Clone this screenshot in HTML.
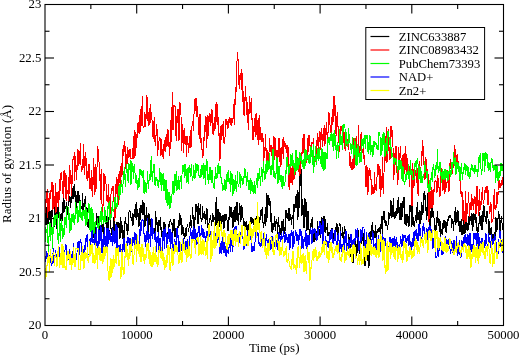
<!DOCTYPE html>
<html><head><meta charset="utf-8"><title>Radius of gyration</title>
<style>
html,body{margin:0;padding:0;background:#fff;}
body{width:519px;height:355px;overflow:hidden;}
svg{display:block;}
svg text{font-family:"Liberation Serif","Times New Roman",serif;font-size:12.8px;fill:#000;}
</style></head><body>
<svg width="519" height="355" viewBox="0 0 519 355">
<rect width="519" height="355" fill="#fff"/>
<g id="curves">
<polyline fill="none" stroke="#000000" stroke-width="1" shape-rendering="crispEdges" stroke-linejoin="round" points="45.0,225.0 45.2,219.8 45.5,217.0 45.8,210.6 46.0,221.9 46.2,207.6 46.5,224.3 46.8,217.4 47.0,221.5 47.2,219.5 47.5,231.9 47.8,211.3 48.0,211.9 48.2,211.6 48.5,223.8 48.8,213.3 49.0,213.9 49.2,208.4 49.5,212.3 49.8,219.2 50.0,209.6 50.2,222.0 50.5,228.0 50.8,228.5 51.0,232.0 51.2,221.2 51.5,218.8 51.8,210.5 52.0,210.5 52.2,217.0 52.5,211.2 52.8,209.7 53.0,206.4 53.2,202.9 53.5,202.0 53.8,206.7 54.0,200.8 54.2,207.7 54.5,223.5 54.8,226.4 55.0,220.8 55.2,211.5 55.5,206.6 55.8,222.4 56.0,219.8 56.2,212.7 56.5,214.4 56.8,228.4 57.0,224.7 57.2,225.1 57.5,222.9 57.8,216.6 58.0,206.8 58.2,206.2 58.5,206.7 58.8,212.6 59.0,218.0 59.2,222.1 59.5,220.1 59.8,222.8 60.0,213.4 60.2,220.7 60.5,220.4 60.8,214.7 61.0,216.1 61.2,213.3 61.5,219.1 61.8,222.0 62.0,221.7 62.2,215.7 62.5,204.1 62.8,202.4 63.0,205.3 63.2,211.5 63.5,212.0 63.8,198.1 64.0,199.4 64.2,206.9 64.5,208.2 64.8,212.0 65.0,208.6 65.2,206.4 65.5,207.1 65.8,208.7 66.0,208.4 66.2,207.7 66.5,202.4 66.8,205.1 67.0,205.2 67.2,211.1 67.5,214.9 67.8,211.9 68.0,206.2 68.2,200.8 68.5,203.5 68.8,203.1 69.0,200.2 69.2,200.5 69.5,196.6 69.8,201.9 70.0,198.3 70.2,206.1 70.5,206.1 70.8,207.1 71.0,197.5 71.2,198.8 71.5,202.9 71.8,195.5 72.0,194.6 72.2,195.8 72.5,188.2 72.8,193.1 73.0,199.2 73.2,193.2 73.5,196.2 73.8,188.6 74.0,186.0 74.2,184.8 74.5,193.7 74.8,196.4 75.0,195.6 75.2,191.4 75.5,200.1 75.8,206.7 76.0,194.9 76.2,202.5 76.5,207.6 76.8,207.3 77.0,197.4 77.2,202.5 77.5,200.1 77.8,196.3 78.0,190.6 78.2,196.7 78.5,202.1 78.8,198.0 79.0,201.7 79.2,195.0 79.5,201.5 79.8,201.7 80.0,200.6 80.2,200.4 80.5,205.7 80.8,208.5 81.0,209.2 81.2,207.6 81.5,206.3 81.8,208.5 82.0,207.9 82.2,210.0 82.5,206.1 82.8,193.0 83.0,202.0 83.2,214.3 83.5,213.3 83.8,209.8 84.0,207.4 84.2,206.0 84.5,205.9 84.8,200.0 85.0,199.4 85.2,196.9 85.5,202.1 85.8,202.8 86.0,208.0 86.2,207.8 86.5,214.8 86.8,215.1 87.0,223.2 87.2,211.1 87.5,208.1 87.8,216.1 88.0,226.9 88.2,225.3 88.5,222.8 88.8,219.5 89.0,228.4 89.2,223.3 89.5,227.0 89.8,222.5 90.0,212.8 90.2,217.9 90.5,222.7 90.8,231.5 91.0,227.2 91.2,220.9 91.5,225.3 91.8,226.0 92.0,226.8 92.2,224.9 92.5,232.3 92.8,231.7 93.0,236.6 93.2,236.8 93.5,237.0 93.8,224.3 94.0,228.5 94.2,230.1 94.5,233.7 94.8,237.6 95.0,230.9 95.2,234.4 95.5,227.8 95.8,238.2 96.0,226.3 96.2,215.0 96.5,213.5 96.8,213.6 97.0,213.7 97.2,226.8 97.5,224.6 97.8,216.8 98.0,227.2 98.2,223.3 98.5,216.8 98.8,225.8 99.0,230.0 99.2,226.2 99.5,235.2 99.8,233.1 100.0,239.0 100.2,239.0 100.5,239.1 100.8,239.1 101.0,227.5 101.2,239.2 101.5,233.8 101.8,230.3 102.0,225.0 102.2,224.6 102.5,227.1 102.8,228.4 103.0,232.1 103.2,239.5 103.5,235.9 103.8,225.4 104.0,219.0 104.2,217.9 104.5,215.6 104.8,222.0 105.0,221.0 105.2,221.5 105.5,223.7 105.8,216.6 106.0,215.9 106.2,223.9 106.5,229.1 106.8,226.0 107.0,237.8 107.2,226.4 107.5,224.8 107.8,224.5 108.0,216.0 108.2,227.3 108.5,229.8 108.8,222.8 109.0,237.1 109.2,237.5 109.5,236.8 109.8,230.0 110.0,230.0 110.2,219.9 110.5,227.6 110.8,225.5 111.0,227.2 111.2,234.8 111.5,234.2 111.8,233.6 112.0,233.3 112.2,227.0 112.5,232.5 112.8,240.0 113.0,240.0 113.2,240.0 113.5,231.5 113.8,225.0 114.0,217.2 114.2,228.5 114.5,226.8 114.8,235.8 115.0,228.3 115.2,225.4 115.5,226.7 115.8,232.7 116.0,231.3 116.2,231.2 116.5,229.9 116.8,230.1 117.0,221.9 117.2,224.2 117.5,223.9 117.8,224.5 118.0,228.4 118.2,223.3 118.5,223.8 118.8,222.7 119.0,226.7 119.2,231.7 119.5,223.4 119.8,228.2 120.0,239.2 120.2,226.2 120.5,220.8 120.8,217.0 121.0,218.7 121.2,232.3 121.5,230.6 121.8,224.9 122.0,229.8 122.2,225.2 122.5,233.3 122.8,233.0 123.0,239.5 123.2,230.8 123.5,239.0 123.8,238.7 124.0,238.4 124.2,236.3 124.5,228.0 124.8,221.6 125.0,222.0 125.2,218.1 125.5,222.1 125.8,217.9 126.0,223.8 126.2,229.5 126.5,223.2 126.8,230.4 127.0,226.4 127.2,232.0 127.5,231.3 127.8,234.3 128.0,224.6 128.2,223.1 128.5,230.9 128.8,224.2 129.0,211.7 129.2,210.7 129.5,210.5 129.8,210.4 130.0,210.2 130.2,214.5 130.5,214.0 130.8,217.9 131.0,217.9 131.2,218.5 131.5,217.8 131.8,217.3 132.0,220.5 132.2,213.0 132.5,220.8 132.8,225.3 133.0,221.6 133.2,225.0 133.5,218.3 133.8,214.7 134.0,216.5 134.2,215.5 134.5,213.2 134.8,210.2 135.0,208.9 135.2,217.2 135.5,204.7 135.8,210.7 136.0,210.8 136.2,216.9 136.5,219.5 136.8,202.7 137.0,208.9 137.2,212.8 137.5,213.4 137.8,210.7 138.0,217.4 138.2,213.6 138.5,225.5 138.8,225.1 139.0,226.6 139.2,222.5 139.5,208.1 139.8,214.7 140.0,219.7 140.2,217.8 140.5,206.4 140.8,205.9 141.0,212.5 141.2,211.5 141.5,211.3 141.8,210.8 142.0,205.5 142.2,204.7 142.5,200.3 142.8,214.7 143.0,210.9 143.2,214.6 143.5,207.3 143.8,214.1 144.0,202.0 144.2,212.2 144.5,213.0 144.8,226.5 145.0,215.0 145.2,216.0 145.5,218.5 145.8,225.4 146.0,220.3 146.2,220.2 146.5,207.7 146.8,207.8 147.0,214.4 147.2,222.6 147.5,220.6 147.8,231.1 148.0,231.5 148.2,231.8 148.5,216.7 148.8,213.2 149.0,213.8 149.2,221.8 149.5,224.5 149.8,215.8 150.0,218.2 150.2,227.9 150.5,224.9 150.8,220.9 151.0,232.1 151.2,229.4 151.5,224.7 151.8,225.9 152.0,224.7 152.2,221.4 152.5,228.3 152.8,232.4 153.0,233.1 153.2,228.5 153.5,232.7 153.8,228.1 154.0,228.2 154.2,231.8 154.5,232.4 154.8,232.3 155.0,232.2 155.2,218.8 155.5,211.7 155.8,223.6 156.0,220.5 156.2,223.2 156.5,217.3 156.8,225.1 157.0,221.7 157.2,230.8 157.5,224.8 157.8,230.8 158.0,232.1 158.2,225.0 158.5,230.9 158.8,223.6 159.0,219.6 159.2,225.5 159.5,222.2 159.8,220.4 160.0,220.7 160.2,217.8 160.5,226.2 160.8,229.5 161.0,228.4 161.2,227.7 161.5,229.9 161.8,236.8 162.0,237.0 162.2,232.7 162.5,234.9 162.8,232.4 163.0,230.6 163.2,237.6 163.5,233.4 163.8,230.2 164.0,222.1 164.2,222.0 164.5,225.1 164.8,224.2 165.0,228.6 165.2,225.0 165.5,224.1 165.8,229.2 166.0,235.6 166.2,236.4 166.5,238.8 166.8,238.9 167.0,239.0 167.2,235.7 167.5,234.1 167.8,235.6 168.0,232.5 168.2,233.7 168.5,226.4 168.8,224.3 169.0,228.4 169.2,222.0 169.5,221.6 169.8,221.8 170.0,220.7 170.2,220.9 170.5,219.9 170.8,221.2 171.0,222.3 171.2,225.0 171.5,223.1 171.8,224.9 172.0,222.5 172.2,226.8 172.5,235.8 172.8,233.6 173.0,231.9 173.2,223.3 173.5,227.9 173.8,222.6 174.0,218.7 174.2,224.2 174.5,225.5 174.8,231.8 175.0,236.5 175.2,230.0 175.5,228.8 175.8,236.2 176.0,236.1 176.2,236.1 176.5,236.0 176.8,231.2 177.0,232.4 177.2,235.7 177.5,235.6 177.8,230.9 178.0,226.5 178.2,227.6 178.5,224.0 178.8,220.9 179.0,226.0 179.2,223.2 179.5,213.1 179.8,219.9 180.0,219.8 180.2,218.4 180.5,216.0 180.8,224.2 181.0,217.9 181.2,218.9 181.5,219.8 181.8,227.9 182.0,234.9 182.2,228.9 182.5,229.6 182.8,225.1 183.0,232.1 183.2,227.8 183.5,230.1 183.8,235.5 184.0,234.6 184.2,238.6 184.5,233.7 184.8,234.2 185.0,236.0 185.2,233.6 185.5,237.0 185.8,236.3 186.0,228.0 186.2,236.1 186.5,235.6 186.8,235.1 187.0,227.1 187.2,226.9 187.5,224.5 187.8,226.9 188.0,227.3 188.2,232.0 188.5,230.1 188.8,229.3 189.0,228.1 189.2,224.9 189.5,222.5 189.8,226.1 190.0,227.0 190.2,221.6 190.5,215.9 190.8,216.6 191.0,222.6 191.2,221.1 191.5,228.0 191.8,221.2 192.0,220.7 192.2,208.4 192.5,208.0 192.8,209.4 193.0,214.6 193.2,224.3 193.5,221.8 193.8,227.3 194.0,227.2 194.2,227.2 194.5,221.8 194.8,227.0 195.0,217.2 195.2,219.3 195.5,212.4 195.8,210.4 196.0,204.0 196.2,204.7 196.5,210.3 196.8,211.5 197.0,205.0 197.2,216.8 197.5,218.0 197.8,222.5 198.0,224.1 198.2,217.0 198.5,205.1 198.8,203.5 199.0,213.9 199.2,208.1 199.5,214.8 199.8,211.1 200.0,214.3 200.2,204.1 200.5,214.2 200.8,214.1 201.0,219.1 201.2,218.7 201.5,221.7 201.8,218.9 202.0,221.6 202.2,211.3 202.5,207.0 202.8,213.9 203.0,214.4 203.2,213.7 203.5,213.6 203.8,217.2 204.0,213.8 204.2,217.5 204.5,212.3 204.8,211.8 205.0,218.8 205.2,223.8 205.5,215.8 205.8,220.7 206.0,214.2 206.2,219.2 206.5,209.0 206.8,208.0 207.0,208.7 207.2,211.7 207.5,221.3 207.8,224.9 208.0,228.4 208.2,228.6 208.5,226.7 208.8,223.5 209.0,227.1 209.2,225.3 209.5,223.5 209.8,218.1 210.0,219.4 210.2,215.5 210.5,216.1 210.8,216.6 211.0,220.1 211.2,220.2 211.5,220.3 211.8,225.2 212.0,220.1 212.2,221.4 212.5,213.1 212.8,215.3 213.0,218.1 213.2,222.0 213.5,215.9 213.8,217.7 214.0,218.7 214.2,217.4 214.5,217.2 214.8,218.9 215.0,219.5 215.2,210.5 215.5,202.7 215.8,223.1 216.0,225.9 216.2,214.7 216.5,198.0 216.8,219.7 217.0,222.7 217.2,220.3 217.5,211.4 217.8,211.2 218.0,209.2 218.2,212.3 218.5,211.9 218.8,212.7 219.0,220.7 219.2,227.1 219.5,216.7 219.8,214.7 220.0,211.8 220.2,221.5 220.5,220.7 220.8,228.4 221.0,223.3 221.2,222.9 221.5,216.1 221.8,224.8 222.0,222.6 222.2,216.4 222.5,216.8 222.8,215.5 223.0,215.2 223.2,217.8 223.5,220.8 223.8,228.3 224.0,225.0 224.2,227.8 224.5,227.4 224.8,224.6 225.0,213.6 225.2,221.0 225.5,218.6 225.8,219.6 226.0,213.6 226.2,217.5 226.5,219.1 226.8,219.7 227.0,219.1 227.2,225.1 227.5,228.5 227.8,229.5 228.0,230.7 228.2,230.6 228.5,225.7 228.8,217.5 229.0,220.4 229.2,215.6 229.5,206.9 229.8,206.6 230.0,206.3 230.2,216.2 230.5,207.1 230.8,207.0 231.0,209.7 231.2,207.8 231.5,214.3 231.8,215.2 232.0,217.7 232.2,212.8 232.5,223.7 232.8,221.1 233.0,227.5 233.2,220.7 233.5,222.8 233.8,216.0 234.0,209.9 234.2,207.4 234.5,209.9 234.8,210.4 235.0,221.8 235.2,212.1 235.5,206.1 235.8,219.9 236.0,221.9 236.2,207.2 236.5,212.9 236.8,215.0 237.0,202.1 237.2,203.7 237.5,207.5 237.8,214.8 238.0,220.9 238.2,219.5 238.5,224.5 238.8,220.4 239.0,213.2 239.2,208.2 239.5,214.2 239.8,203.3 240.0,211.3 240.2,206.0 240.5,207.3 240.8,213.4 241.0,221.8 241.2,207.9 241.5,205.9 241.8,210.5 242.0,209.8 242.2,217.9 242.5,207.7 242.8,213.7 243.0,218.4 243.2,219.6 243.5,225.5 243.8,218.6 244.0,225.0 244.2,221.4 244.5,225.2 244.8,223.6 245.0,227.1 245.2,229.2 245.5,222.5 245.8,223.0 246.0,223.7 246.2,223.7 246.5,222.0 246.8,230.1 247.0,229.8 247.2,233.5 247.5,230.0 247.8,225.7 248.0,226.5 248.2,224.3 248.5,233.4 248.8,231.5 249.0,233.0 249.2,229.6 249.5,226.5 249.8,225.4 250.0,226.1 250.2,228.5 250.5,225.9 250.8,221.7 251.0,216.9 251.2,218.0 251.5,221.6 251.8,223.3 252.0,222.1 252.2,218.4 252.5,219.4 252.8,222.3 253.0,221.2 253.2,221.2 253.5,219.9 253.8,224.3 254.0,220.5 254.2,221.0 254.5,222.3 254.8,224.8 255.0,228.9 255.2,228.9 255.5,228.8 255.8,218.2 256.0,221.4 256.2,228.6 256.5,223.2 256.8,216.6 257.0,216.3 257.2,222.1 257.5,223.4 257.8,219.4 258.0,218.9 258.2,223.8 258.5,225.1 258.8,227.9 259.0,227.9 259.2,227.8 259.5,227.7 259.8,223.3 260.0,216.6 260.2,217.6 260.5,219.8 260.8,211.0 261.0,209.6 261.2,209.4 261.5,212.9 261.8,211.9 262.0,215.6 262.2,215.7 262.5,222.3 262.8,207.3 263.0,221.2 263.2,227.9 263.5,223.7 263.8,224.9 264.0,225.3 264.2,214.5 264.5,214.7 264.8,220.0 265.0,219.4 265.2,225.6 265.5,221.0 265.8,217.8 266.0,207.4 266.2,193.0 266.5,201.7 266.8,221.2 267.0,219.8 267.2,207.5 267.5,212.7 267.8,210.9 268.0,194.7 268.2,199.1 268.5,196.2 268.8,204.2 269.0,200.0 269.2,198.3 269.5,205.4 269.8,199.8 270.0,200.9 270.2,208.1 270.5,215.9 270.8,221.8 271.0,220.2 271.2,213.8 271.5,228.6 271.8,221.2 272.0,231.6 272.2,225.0 272.5,230.6 272.8,232.1 273.0,222.8 273.2,224.3 273.5,227.7 273.8,229.6 274.0,225.8 274.2,226.3 274.5,222.9 274.8,216.7 275.0,224.3 275.2,221.2 275.5,229.2 275.8,230.4 276.0,224.0 276.2,223.5 276.5,222.8 276.8,219.8 277.0,224.2 277.2,222.8 277.5,231.2 277.8,233.1 278.0,226.7 278.2,226.2 278.5,224.9 278.8,217.8 279.0,224.6 279.2,229.3 279.5,232.2 279.8,227.5 280.0,231.8 280.2,228.3 280.5,231.7 280.8,234.7 281.0,234.4 281.2,223.3 281.5,221.8 281.8,226.0 282.0,232.0 282.2,222.7 282.5,221.9 282.8,223.7 283.0,226.1 283.2,230.5 283.5,222.2 283.8,219.9 284.0,227.0 284.2,228.0 284.5,228.9 284.8,233.8 285.0,230.5 285.2,231.0 285.5,225.9 285.8,215.9 286.0,209.8 286.2,214.5 286.5,215.8 286.8,213.7 287.0,218.4 287.2,213.9 287.5,217.2 287.8,218.5 288.0,214.2 288.2,208.9 288.5,217.9 288.8,220.9 289.0,208.7 289.2,208.6 289.5,214.4 289.8,215.1 290.0,220.6 290.2,214.5 290.5,217.5 290.8,218.1 291.0,217.6 291.2,217.1 291.5,219.1 291.8,224.7 292.0,219.0 292.2,215.9 292.5,217.3 292.8,216.3 293.0,218.7 293.2,222.5 293.5,228.7 293.8,223.1 294.0,204.3 294.2,207.0 294.5,211.6 294.8,210.7 295.0,210.1 295.2,198.4 295.5,203.0 295.8,203.3 296.0,196.5 296.2,195.9 296.5,195.0 296.8,201.7 297.0,207.7 297.2,219.2 297.5,219.4 297.8,202.5 298.0,190.2 298.2,203.8 298.5,216.4 298.8,208.4 299.0,210.0 299.2,191.1 299.5,178.1 299.8,176.1 300.0,174.1 300.2,172.5 300.5,175.4 300.8,173.9 301.0,185.9 301.2,205.1 301.5,170.0 301.8,216.0 302.0,207.4 302.2,199.3 302.5,204.6 302.8,200.7 303.0,214.7 303.2,205.6 303.5,220.2 303.8,218.8 304.0,228.3 304.2,225.8 304.5,219.0 304.8,218.1 305.0,198.0 305.2,209.2 305.5,215.4 305.8,216.6 306.0,205.4 306.2,202.8 306.5,210.6 306.8,221.6 307.0,231.0 307.2,222.0 307.5,216.2 307.8,216.9 308.0,210.8 308.2,211.2 308.5,219.2 308.8,229.7 309.0,229.3 309.2,234.4 309.5,234.7 309.8,232.4 310.0,229.1 310.2,229.0 310.5,226.7 310.8,225.9 311.0,222.7 311.2,225.8 311.5,226.6 311.8,219.1 312.0,221.1 312.2,219.2 312.5,218.0 312.8,220.6 313.0,232.6 313.2,240.8 313.5,241.2 313.8,237.9 314.0,241.7 314.2,241.6 314.5,228.5 314.8,233.8 315.0,236.0 315.2,234.8 315.5,234.6 315.8,233.3 316.0,240.4 316.2,234.7 316.5,231.8 316.8,231.0 317.0,231.8 317.2,221.8 317.5,231.5 317.8,231.8 318.0,233.6 318.2,232.9 318.5,230.4 318.8,228.0 319.0,228.6 319.2,229.2 319.5,234.6 319.8,234.0 320.0,231.2 320.2,237.6 320.5,229.1 320.8,221.9 321.0,225.4 321.2,224.8 321.5,217.3 321.8,218.6 322.0,217.8 322.2,226.2 322.5,223.0 322.8,229.0 323.0,230.0 323.2,227.3 323.5,226.6 323.8,228.0 324.0,215.8 324.2,221.1 324.5,221.2 324.8,231.6 325.0,226.9 325.2,232.3 325.5,219.6 325.8,226.2 326.0,228.3 326.2,227.5 326.5,227.7 326.8,227.3 327.0,230.0 327.2,229.6 327.5,223.2 327.8,225.4 328.0,235.8 328.2,234.6 328.5,234.7 328.8,232.4 329.0,233.2 329.2,233.8 329.5,232.9 329.8,236.0 330.0,232.5 330.2,232.8 330.5,234.7 330.8,233.5 331.0,229.6 331.2,232.7 331.5,229.7 331.8,229.4 332.0,227.9 332.2,229.3 332.5,229.1 332.8,228.7 333.0,232.4 333.2,238.7 333.5,235.3 333.8,236.2 334.0,233.5 334.2,233.4 334.5,237.1 334.8,235.5 335.0,231.2 335.2,228.6 335.5,227.3 335.8,228.7 336.0,233.0 336.2,227.1 336.5,224.4 336.8,223.7 337.0,223.7 337.2,228.8 337.5,229.7 337.8,238.2 338.0,230.1 338.2,236.1 338.5,231.7 338.8,230.1 339.0,226.6 339.2,224.4 339.5,223.6 339.8,226.0 340.0,223.6 340.2,224.8 340.5,227.3 340.8,232.0 341.0,232.5 341.2,233.9 341.5,235.7 341.8,234.5 342.0,235.4 342.2,230.0 342.5,227.3 342.8,237.9 343.0,236.4 343.2,232.2 343.5,239.7 343.8,237.2 344.0,233.3 344.2,226.7 344.5,233.9 344.8,229.0 345.0,228.8 345.2,235.1 345.5,236.9 345.8,236.7 346.0,236.0 346.2,243.4 346.5,249.5 346.8,246.2 347.0,247.4 347.2,251.1 347.5,251.6 347.8,247.6 348.0,242.9 348.2,239.1 348.5,234.9 348.8,234.1 349.0,239.2 349.2,237.6 349.5,245.5 349.8,246.3 350.0,244.0 350.2,250.3 350.5,251.2 350.8,251.7 351.0,256.8 351.2,257.5 351.5,254.2 351.8,258.3 352.0,257.5 352.2,261.9 352.5,262.5 352.8,262.8 353.0,262.6 353.2,262.3 353.5,262.0 353.8,261.2 354.0,251.8 354.2,247.1 354.5,250.7 354.8,239.7 355.0,243.6 355.2,239.9 355.5,246.8 355.8,241.6 356.0,255.3 356.2,256.9 356.5,244.1 356.8,256.1 357.0,250.4 357.2,242.9 357.5,235.8 357.8,242.2 358.0,252.6 358.2,244.8 358.5,236.9 358.8,230.9 359.0,244.1 359.2,253.4 359.5,246.3 359.8,247.1 360.0,244.2 360.2,241.8 360.5,246.2 360.8,245.7 361.0,244.5 361.2,240.2 361.5,243.3 361.8,239.2 362.0,238.2 362.2,240.2 362.5,234.1 362.8,235.4 363.0,236.6 363.2,240.2 363.5,235.7 363.8,233.4 364.0,248.7 364.2,257.2 364.5,261.7 364.8,264.8 365.0,266.4 365.2,264.2 365.5,264.2 365.8,246.2 366.0,240.0 366.2,249.9 366.5,250.7 366.8,241.0 367.0,249.5 367.2,257.6 367.5,260.3 367.8,256.4 368.0,247.2 368.2,248.7 368.5,252.1 368.8,247.8 369.0,268.0 369.2,252.4 369.5,251.7 369.8,232.5 370.0,243.5 370.2,254.5 370.5,245.5 370.8,231.9 371.0,237.3 371.2,232.9 371.5,226.6 371.8,235.6 372.0,225.1 372.2,230.3 372.5,222.1 372.8,232.4 373.0,233.9 373.2,230.7 373.5,230.7 373.8,233.0 374.0,235.7 374.2,237.4 374.5,237.0 374.8,231.4 375.0,233.6 375.2,225.1 375.5,231.1 375.8,234.3 376.0,237.5 376.2,232.0 376.5,231.4 376.8,234.1 377.0,233.3 377.2,229.2 377.5,230.0 377.8,229.3 378.0,233.1 378.2,228.0 378.5,229.1 378.8,229.6 379.0,232.1 379.2,229.6 379.5,229.0 379.8,227.5 380.0,227.0 380.2,226.4 380.5,224.3 380.8,235.4 381.0,229.8 381.2,221.8 381.5,218.5 381.8,216.7 382.0,219.3 382.2,228.7 382.5,234.8 382.8,233.1 383.0,215.6 383.2,220.1 383.5,213.4 383.8,213.5 384.0,210.9 384.2,216.1 384.5,214.0 384.8,220.8 385.0,223.4 385.2,220.7 385.5,220.8 385.8,225.7 386.0,221.1 386.2,225.7 386.5,223.0 386.8,222.8 387.0,225.9 387.2,230.0 387.5,229.5 387.8,225.4 388.0,226.8 388.2,213.0 388.5,224.4 388.8,212.5 389.0,219.2 389.2,213.8 389.5,217.3 389.8,215.3 390.0,216.6 390.2,210.1 390.5,200.4 390.8,205.1 391.0,203.7 391.2,202.5 391.5,201.1 391.8,217.5 392.0,211.6 392.2,213.4 392.5,205.2 392.8,216.5 393.0,210.8 393.2,198.4 393.5,216.4 393.8,207.3 394.0,215.7 394.2,217.6 394.5,218.2 394.8,213.3 395.0,212.5 395.2,217.8 395.5,212.4 395.8,211.9 396.0,215.3 396.2,212.6 396.5,208.3 396.8,216.0 397.0,214.8 397.2,211.4 397.5,205.3 397.8,200.0 398.0,207.6 398.2,213.0 398.5,197.8 398.8,197.1 399.0,206.4 399.2,219.0 399.5,219.1 399.8,219.2 400.0,219.3 400.2,218.2 400.5,219.3 400.8,206.8 401.0,203.0 401.2,206.4 401.5,219.9 401.8,220.0 402.0,218.0 402.2,212.9 402.5,201.4 402.8,207.7 403.0,205.3 403.2,208.1 403.5,202.2 403.8,205.5 404.0,196.6 404.2,204.7 404.5,215.6 404.8,220.0 405.0,223.5 405.2,223.9 405.5,224.2 405.8,223.7 406.0,214.3 406.2,225.2 406.5,225.5 406.8,222.3 407.0,214.0 407.2,218.0 407.5,222.4 407.8,220.8 408.0,219.9 408.2,217.2 408.5,216.5 408.8,224.0 409.0,226.9 409.2,215.7 409.5,216.5 409.8,209.3 410.0,204.6 410.2,211.6 410.5,208.5 410.8,205.1 411.0,205.2 411.2,216.1 411.5,226.8 411.8,221.2 412.0,226.7 412.2,209.6 412.5,206.7 412.8,212.7 413.0,216.4 413.2,223.2 413.5,225.7 413.8,221.8 414.0,226.3 414.2,226.3 414.5,226.2 414.8,222.0 415.0,221.2 415.2,216.6 415.5,220.4 415.8,217.1 416.0,214.7 416.2,207.0 416.5,211.2 416.8,218.6 417.0,222.8 417.2,202.4 417.5,202.2 417.8,214.2 418.0,212.7 418.2,212.0 418.5,219.4 418.8,218.3 419.0,212.5 419.2,211.1 419.5,223.4 419.8,210.7 420.0,219.4 420.2,214.7 420.5,211.7 420.8,224.0 421.0,215.1 421.2,219.3 421.5,213.8 421.8,202.6 422.0,204.0 422.2,214.2 422.5,211.0 422.8,214.1 423.0,213.4 423.2,211.8 423.5,207.3 423.8,208.1 424.0,192.8 424.2,193.9 424.5,191.9 424.8,193.8 425.0,200.4 425.2,195.9 425.5,205.9 425.8,209.5 426.0,211.2 426.2,207.3 426.5,211.6 426.8,219.4 427.0,210.5 427.2,203.5 427.5,215.9 427.8,194.3 428.0,193.5 428.2,193.7 428.5,194.0 428.8,198.3 429.0,207.9 429.2,210.6 429.5,224.3 429.8,229.0 430.0,229.1 430.2,219.3 430.5,220.7 430.8,213.0 431.0,211.1 431.2,206.7 431.5,210.9 431.8,216.9 432.0,218.0 432.2,211.7 432.5,208.2 432.8,209.1 433.0,210.1 433.2,217.0 433.5,217.0 433.8,217.4 434.0,217.8 434.2,224.3 434.5,230.8 434.8,230.2 435.0,225.9 435.2,231.7 435.5,230.8 435.8,225.3 436.0,229.8 436.2,228.3 436.5,217.8 436.8,222.9 437.0,224.5 437.2,212.5 437.5,211.1 437.8,212.2 438.0,220.7 438.2,225.8 438.5,218.7 438.8,219.9 439.0,225.9 439.2,219.3 439.5,223.1 439.8,226.3 440.0,231.5 440.2,221.1 440.5,225.1 440.8,235.2 441.0,231.7 441.2,230.1 441.5,233.6 441.8,229.5 442.0,233.8 442.2,234.3 442.5,226.6 442.8,227.8 443.0,222.6 443.2,228.2 443.5,221.8 443.8,220.9 444.0,220.6 444.2,220.4 444.5,225.7 444.8,226.1 445.0,227.5 445.2,231.3 445.5,226.8 445.8,224.3 446.0,221.5 446.2,226.0 446.5,232.2 446.8,230.8 447.0,226.3 447.2,223.8 447.5,219.7 447.8,224.4 448.0,220.2 448.2,220.6 448.5,217.2 448.8,216.4 449.0,216.3 449.2,216.1 449.5,216.0 449.8,216.5 450.0,218.0 450.2,215.5 450.5,215.3 450.8,215.1 451.0,217.3 451.2,228.0 451.5,225.6 451.8,218.4 452.0,225.2 452.2,219.0 452.5,222.2 452.8,219.2 453.0,219.7 453.2,231.0 453.5,227.8 453.8,221.1 454.0,222.3 454.2,220.5 454.5,216.5 454.8,211.8 455.0,217.2 455.2,224.4 455.5,214.6 455.8,207.6 456.0,224.2 456.2,212.5 456.5,219.7 456.8,222.5 457.0,214.7 457.2,221.6 457.5,214.8 457.8,210.9 458.0,210.1 458.2,217.5 458.5,217.2 458.8,225.3 459.0,220.8 459.2,225.3 459.5,231.9 459.8,229.0 460.0,222.2 460.2,221.7 460.5,228.9 460.8,231.1 461.0,227.5 461.2,219.3 461.5,225.0 461.8,232.6 462.0,234.8 462.2,234.9 462.5,231.9 462.8,227.1 463.0,225.1 463.2,219.4 463.5,230.3 463.8,228.6 464.0,234.4 464.2,233.0 464.5,223.2 464.8,231.8 465.0,225.3 465.2,222.8 465.5,230.5 465.8,232.7 466.0,221.1 466.2,221.5 466.5,216.4 466.8,220.8 467.0,229.9 467.2,224.5 467.5,230.7 467.8,223.1 468.0,231.0 468.2,224.9 468.5,221.5 468.8,222.9 469.0,215.9 469.2,224.8 469.5,218.8 469.8,222.3 470.0,216.2 470.2,218.4 470.5,219.3 470.8,218.2 471.0,221.4 471.2,216.6 471.5,225.0 471.8,224.8 472.0,213.1 472.2,224.2 472.5,225.6 472.8,231.1 473.0,227.7 473.2,215.6 473.5,216.2 473.8,213.7 474.0,216.3 474.2,216.5 474.5,219.9 474.8,214.1 475.0,216.9 475.2,217.2 475.5,222.7 475.8,214.8 476.0,215.8 476.2,226.6 476.5,219.7 476.8,224.6 477.0,230.6 477.2,227.9 477.5,231.1 477.8,232.7 478.0,232.6 478.2,230.4 478.5,227.1 478.8,229.4 479.0,223.3 479.2,223.2 479.5,219.4 479.8,212.6 480.0,215.1 480.2,225.8 480.5,222.3 480.8,222.1 481.0,218.9 481.2,215.1 481.5,217.2 481.8,223.6 482.0,230.1 482.2,229.9 482.5,222.3 482.8,211.8 483.0,221.4 483.2,221.5 483.5,215.5 483.8,208.4 484.0,205.1 484.2,216.7 484.5,216.5 484.8,207.7 485.0,216.9 485.2,219.3 485.5,217.3 485.8,221.6 486.0,216.3 486.2,223.2 486.5,214.6 486.8,212.4 487.0,211.1 487.2,211.9 487.5,212.7 487.8,214.8 488.0,218.3 488.2,223.2 488.5,224.6 488.8,226.1 489.0,232.6 489.2,229.3 489.5,221.9 489.8,227.4 490.0,234.7 490.2,233.1 490.5,234.9 490.8,228.7 491.0,228.9 491.2,231.4 491.5,231.8 491.8,227.0 492.0,236.2 492.2,234.0 492.5,237.2 492.8,236.2 493.0,238.6 493.2,239.4 493.5,234.7 493.8,237.7 494.0,239.7 494.2,239.0 494.5,238.3 494.8,237.7 495.0,232.2 495.2,236.3 495.5,233.0 495.8,217.4 496.0,219.6 496.2,226.0 496.5,219.3 496.8,231.3 497.0,231.6 497.2,221.1 497.5,225.9 497.8,224.1 498.0,219.5 498.2,218.2 498.5,216.8 498.8,211.4 499.0,212.9 499.2,221.2 499.5,231.5 499.8,236.8 500.0,230.9 500.2,229.0 500.5,223.2 500.8,231.8 501.0,220.5 501.2,216.5 501.5,217.0 501.8,222.7 502.0,223.1 502.2,225.5 502.5,227.1 502.8,229.1 503.0,223.3 503.2,223.4 503.5,228.6"/>
<polyline fill="none" stroke="#ff0000" stroke-width="1" shape-rendering="crispEdges" stroke-linejoin="round" points="45.0,213.5 45.2,212.3 45.5,200.2 45.8,212.3 46.0,199.0 46.2,195.7 46.5,202.8 46.8,194.1 47.0,191.1 47.2,189.6 47.5,196.4 47.8,219.0 48.0,213.6 48.2,199.2 48.5,205.2 48.8,198.5 49.0,199.5 49.2,211.0 49.5,200.7 49.8,200.9 50.0,192.9 50.2,194.2 50.5,198.7 50.8,190.3 51.0,190.7 51.2,191.7 51.5,188.8 51.8,182.7 52.0,182.5 52.2,182.4 52.5,185.7 52.8,209.7 53.0,184.2 53.2,190.0 53.5,195.9 53.8,208.5 54.0,209.0 54.2,197.2 54.5,197.0 54.8,201.7 55.0,196.9 55.2,203.6 55.5,183.9 55.8,203.6 56.0,213.1 56.2,204.4 56.5,206.6 56.8,202.8 57.0,192.2 57.2,193.7 57.5,203.0 57.8,196.1 58.0,191.7 58.2,191.5 58.5,196.0 58.8,206.8 59.0,195.8 59.2,199.3 59.5,198.8 59.8,179.0 60.0,179.5 60.2,182.4 60.5,185.1 60.8,190.3 61.0,173.2 61.2,178.5 61.5,176.3 61.8,172.6 62.0,180.4 62.2,190.6 62.5,184.2 62.8,193.9 63.0,188.7 63.2,189.4 63.5,178.9 63.8,197.2 64.0,170.8 64.2,175.0 64.5,186.1 64.8,170.2 65.0,172.8 65.2,176.9 65.5,187.9 65.8,199.0 66.0,190.4 66.2,175.3 66.5,191.5 66.8,200.4 67.0,190.1 67.2,191.0 67.5,191.7 67.8,193.8 68.0,191.5 68.2,200.5 68.5,177.4 68.8,188.5 69.0,189.1 69.2,183.6 69.5,193.4 69.8,165.3 70.0,181.0 70.2,183.6 70.5,170.2 70.8,176.6 71.0,173.5 71.2,195.5 71.5,195.1 71.8,194.6 72.0,185.0 72.2,175.2 72.5,171.3 72.8,166.2 73.0,159.4 73.2,158.0 73.5,159.9 73.8,158.7 74.0,156.1 74.2,152.5 74.5,180.7 74.8,163.0 75.0,155.6 75.2,163.1 75.5,161.3 75.8,166.1 76.0,172.0 76.2,179.0 76.5,179.2 76.8,165.5 77.0,172.6 77.2,155.4 77.5,156.5 77.8,154.4 78.0,148.9 78.2,157.1 78.5,156.8 78.8,165.2 79.0,152.4 79.2,160.9 79.5,163.9 79.8,163.0 80.0,150.9 80.2,151.6 80.5,144.2 80.8,143.9 81.0,165.2 81.2,169.6 81.5,171.5 81.8,167.5 82.0,168.8 82.2,169.5 82.5,169.2 82.8,164.8 83.0,160.6 83.2,144.4 83.5,154.0 83.8,159.1 84.0,167.6 84.2,163.1 84.5,174.2 84.8,167.1 85.0,156.1 85.2,165.2 85.5,161.0 85.8,152.8 86.0,157.7 86.2,165.6 86.5,167.2 86.8,170.3 87.0,179.1 87.2,179.6 87.5,180.1 87.8,171.4 88.0,173.3 88.2,178.0 88.5,172.5 88.8,164.9 89.0,170.3 89.2,168.3 89.5,164.6 89.8,177.7 90.0,188.5 90.2,186.6 90.5,178.6 90.8,182.6 91.0,188.7 91.2,191.1 91.5,171.9 91.8,170.7 92.0,177.3 92.2,184.8 92.5,193.8 92.8,197.1 93.0,177.9 93.2,169.8 93.5,158.6 93.8,185.1 94.0,184.0 94.2,187.4 94.5,195.0 94.8,184.1 95.0,167.2 95.2,164.4 95.5,165.6 95.8,185.9 96.0,191.6 96.2,171.6 96.5,179.5 96.8,185.5 97.0,167.1 97.2,166.7 97.5,146.2 97.8,158.1 98.0,159.6 98.2,149.1 98.5,150.2 98.8,162.0 99.0,160.8 99.2,170.7 99.5,180.5 99.8,170.6 100.0,170.9 100.2,200.1 100.5,195.7 100.8,182.1 101.0,184.1 101.2,169.9 101.5,189.0 101.8,193.1 102.0,204.1 102.2,209.4 102.5,207.5 102.8,211.6 103.0,207.2 103.2,194.8 103.5,183.3 103.8,182.1 104.0,173.1 104.2,190.9 104.5,175.0 104.8,181.2 105.0,175.6 105.2,176.2 105.5,176.9 105.8,178.6 106.0,183.6 106.2,193.4 106.5,189.3 106.8,195.7 107.0,201.1 107.2,197.3 107.5,195.5 107.8,201.4 108.0,201.3 108.2,202.2 108.5,184.5 108.8,189.7 109.0,196.7 109.2,197.1 109.5,201.1 109.8,216.2 110.0,211.8 110.2,213.6 110.5,202.6 110.8,195.4 111.0,193.8 111.2,188.3 111.5,193.1 111.8,188.6 112.0,192.0 112.2,186.4 112.5,186.5 112.8,186.6 113.0,186.6 113.2,186.7 113.5,186.8 113.8,187.9 114.0,202.4 114.2,214.7 114.5,217.3 114.8,209.6 115.0,220.8 115.2,200.4 115.5,184.7 115.8,190.1 116.0,192.6 116.2,192.5 116.5,193.6 116.8,178.6 117.0,177.0 117.2,190.7 117.5,200.2 117.8,189.6 118.0,207.4 118.2,190.1 118.5,183.1 118.8,186.4 119.0,173.7 119.2,171.9 119.5,173.4 119.8,171.7 120.0,182.9 120.2,186.8 120.5,172.2 120.8,166.6 121.0,170.8 121.2,170.6 121.5,163.4 121.8,169.5 122.0,176.5 122.2,167.4 122.5,173.7 122.8,156.4 123.0,149.1 123.2,155.3 123.5,150.3 123.8,145.9 124.0,147.8 124.2,145.6 124.5,151.6 124.8,141.7 125.0,142.7 125.2,168.9 125.5,165.2 125.8,147.2 126.0,153.6 126.2,157.3 126.5,165.2 126.8,161.6 127.0,153.8 127.2,162.4 127.5,163.2 127.8,147.2 128.0,153.3 128.2,150.8 128.5,157.5 128.8,152.5 129.0,156.2 129.2,154.9 129.5,156.2 129.8,153.4 130.0,149.3 130.2,149.3 130.5,152.4 130.8,153.2 131.0,159.3 131.2,158.8 131.5,158.6 131.8,159.0 132.0,158.9 132.2,158.8 132.5,150.3 132.8,148.7 133.0,158.4 133.2,155.9 133.5,158.2 133.8,148.1 134.0,136.1 134.2,140.7 134.5,130.9 134.8,155.3 135.0,157.5 135.2,142.9 135.5,139.2 135.8,132.8 136.0,136.3 136.2,134.0 136.5,140.4 136.8,147.6 137.0,139.2 137.2,123.7 137.5,128.5 137.8,124.5 138.0,133.5 138.2,126.7 138.5,131.1 138.8,128.7 139.0,122.3 139.2,115.7 139.5,122.2 139.8,133.5 140.0,132.8 140.2,129.7 140.5,130.2 140.8,125.0 141.0,109.2 141.2,112.8 141.5,125.5 141.8,117.6 142.0,105.6 142.2,111.1 142.5,97.0 142.8,125.8 143.0,126.2 143.2,126.6 143.5,127.0 143.8,127.4 144.0,127.8 144.2,123.9 144.5,118.8 144.8,124.1 145.0,111.9 145.2,126.3 145.5,122.9 145.8,115.6 146.0,122.4 146.2,99.0 146.5,95.6 146.8,95.1 147.0,109.6 147.2,106.0 147.5,98.0 147.8,115.8 148.0,121.1 148.2,112.4 148.5,125.6 148.8,120.4 149.0,124.9 149.2,118.2 149.5,108.6 149.8,110.8 150.0,124.9 150.2,114.6 150.5,104.3 150.8,108.1 151.0,120.9 151.2,113.1 151.5,113.0 151.8,119.5 152.0,119.5 152.2,125.1 152.5,136.6 152.8,134.4 153.0,132.5 153.2,138.5 153.5,135.8 153.8,127.0 154.0,121.3 154.2,117.8 154.5,138.7 154.8,137.5 155.0,141.8 155.2,145.8 155.5,135.9 155.8,141.8 156.0,136.8 156.2,124.9 156.5,127.6 156.8,126.6 157.0,128.8 157.2,136.4 157.5,155.2 157.8,148.0 158.0,146.0 158.2,148.6 158.5,149.3 158.8,147.6 159.0,140.8 159.2,137.6 159.5,140.8 159.8,137.1 160.0,138.0 160.2,138.2 160.5,147.3 160.8,139.1 161.0,155.6 161.2,150.5 161.5,144.2 161.8,139.3 162.0,149.0 162.2,157.1 162.5,150.0 162.8,153.4 163.0,152.4 163.2,151.3 163.5,153.3 163.8,158.9 164.0,143.9 164.2,140.0 164.5,140.0 164.8,143.4 165.0,150.8 165.2,138.7 165.5,137.3 165.8,151.2 166.0,141.1 166.2,146.2 166.5,141.1 166.8,140.4 167.0,134.0 167.2,146.0 167.5,132.9 167.8,131.4 168.0,129.3 168.2,139.2 168.5,141.7 168.8,146.6 169.0,143.1 169.2,142.9 169.5,145.0 169.8,155.8 170.0,151.7 170.2,127.6 170.5,141.6 170.8,138.1 171.0,119.9 171.2,119.1 171.5,108.0 171.8,141.7 172.0,131.5 172.2,104.6 172.5,92.5 172.8,109.7 173.0,130.0 173.2,129.6 173.5,108.8 173.8,109.4 174.0,105.4 174.2,105.8 174.5,106.3 174.8,106.7 175.0,107.2 175.2,106.9 175.5,106.7 175.8,117.0 176.0,136.4 176.2,126.1 176.5,140.9 176.8,116.1 177.0,123.7 177.2,117.8 177.5,118.7 177.8,110.5 178.0,108.8 178.2,110.3 178.5,110.9 178.8,118.8 179.0,141.2 179.2,129.3 179.5,125.0 179.8,105.9 180.0,101.7 180.2,113.8 180.5,105.0 180.8,106.6 181.0,114.7 181.2,129.9 181.5,134.2 181.8,151.0 182.0,145.2 182.2,124.7 182.5,131.2 182.8,135.8 183.0,130.2 183.2,131.9 183.5,131.1 183.8,153.0 184.0,145.2 184.2,132.7 184.5,140.3 184.8,128.9 185.0,137.6 185.2,145.0 185.5,138.7 185.8,137.3 186.0,136.3 186.2,155.3 186.5,156.9 186.8,144.3 187.0,135.9 187.2,140.8 187.5,144.6 187.8,140.5 188.0,145.3 188.2,143.8 188.5,153.0 188.8,153.0 189.0,148.2 189.2,146.5 189.5,136.5 189.8,144.0 190.0,144.2 190.2,137.4 190.5,136.8 190.8,130.7 191.0,147.9 191.2,139.0 191.5,139.0 191.8,137.3 192.0,126.4 192.2,125.2 192.5,121.3 192.8,122.9 193.0,123.5 193.2,127.8 193.5,130.3 193.8,121.2 194.0,114.3 194.2,109.9 194.5,104.5 194.8,99.0 195.0,106.8 195.2,109.8 195.5,110.6 195.8,98.8 196.0,98.8 196.2,98.7 196.5,98.7 196.8,105.7 197.0,116.9 197.2,117.1 197.5,106.2 197.8,111.2 198.0,115.7 198.2,126.6 198.5,134.3 198.8,128.9 199.0,128.3 199.2,135.5 199.5,138.1 199.8,134.2 200.0,114.0 200.2,115.4 200.5,130.0 200.8,133.6 201.0,142.9 201.2,138.7 201.5,139.6 201.8,145.9 202.0,149.5 202.2,149.8 202.5,155.9 202.8,157.0 203.0,157.8 203.2,145.2 203.5,140.7 203.8,139.2 204.0,137.4 204.2,125.4 204.5,140.4 204.8,130.4 205.0,133.2 205.2,120.1 205.5,118.8 205.8,118.8 206.0,116.1 206.2,126.2 206.5,147.1 206.8,132.6 207.0,122.4 207.2,138.3 207.5,137.7 207.8,129.3 208.0,115.3 208.2,123.4 208.5,123.9 208.8,135.2 209.0,121.6 209.2,118.5 209.5,115.0 209.8,113.2 210.0,122.2 210.2,126.1 210.5,117.3 210.8,116.2 211.0,114.5 211.2,122.6 211.5,119.3 211.8,109.7 212.0,109.8 212.2,112.4 212.5,122.0 212.8,131.3 213.0,134.3 213.2,134.3 213.5,125.0 213.8,128.1 214.0,123.9 214.2,117.5 214.5,120.9 214.8,124.2 215.0,130.5 215.2,119.2 215.5,104.6 215.8,114.7 216.0,107.8 216.2,121.7 216.5,110.9 216.8,108.7 217.0,102.2 217.2,124.5 217.5,118.7 217.8,119.2 218.0,117.0 218.2,119.4 218.5,132.5 218.8,134.5 219.0,135.4 219.2,148.6 219.5,133.3 219.8,148.1 220.0,161.3 220.2,144.3 220.5,146.2 220.8,132.9 221.0,125.7 221.2,125.2 221.5,130.4 221.8,140.1 222.0,136.5 222.2,129.8 222.5,128.9 222.8,125.9 223.0,124.5 223.2,121.9 223.5,121.4 223.8,122.1 224.0,142.5 224.2,144.1 224.5,139.0 224.8,137.1 225.0,137.4 225.2,130.6 225.5,119.7 225.8,119.6 226.0,120.7 226.2,124.7 226.5,122.1 226.8,119.3 227.0,121.1 227.2,123.9 227.5,128.0 227.8,126.4 228.0,128.7 228.2,122.7 228.5,128.0 228.8,126.8 229.0,119.2 229.2,119.8 229.5,122.0 229.8,117.1 230.0,123.3 230.2,121.5 230.5,124.5 230.8,118.5 231.0,121.5 231.2,125.7 231.5,121.9 231.8,120.6 232.0,117.6 232.2,120.5 232.5,120.6 232.8,123.0 233.0,120.6 233.2,111.4 233.5,105.6 233.8,104.7 234.0,110.0 234.2,124.8 234.5,124.9 234.8,115.5 235.0,99.0 235.2,104.2 235.5,100.5 235.8,87.5 236.0,92.8 236.2,88.0 236.5,77.5 236.8,62.6 237.0,61.7 237.2,52.0 237.5,55.0 237.8,55.3 238.0,57.7 238.2,69.9 238.5,74.3 238.8,83.3 239.0,85.1 239.2,86.9 239.5,88.7 239.8,88.2 240.0,75.5 240.2,73.3 240.5,79.3 240.8,74.0 241.0,74.0 241.2,69.7 241.5,89.6 241.8,78.6 242.0,73.9 242.2,73.6 242.5,89.0 242.8,101.7 243.0,94.4 243.2,100.5 243.5,91.4 243.8,93.9 244.0,114.9 244.2,115.6 244.5,113.2 244.8,97.9 245.0,97.1 245.2,88.1 245.5,86.6 245.8,90.6 246.0,100.9 246.2,104.6 246.5,114.3 246.8,97.4 247.0,113.8 247.2,102.6 247.5,108.7 247.8,113.7 248.0,123.0 248.2,129.1 248.5,129.9 248.8,122.7 249.0,109.3 249.2,113.6 249.5,106.0 249.8,96.2 250.0,101.0 250.2,113.0 250.5,111.3 250.8,102.9 251.0,109.5 251.2,99.9 251.5,98.3 251.8,115.8 252.0,119.7 252.2,139.5 252.5,118.2 252.8,129.8 253.0,124.2 253.2,139.9 253.5,137.4 253.8,126.0 254.0,127.8 254.2,126.4 254.5,118.3 254.8,127.9 255.0,131.7 255.2,136.9 255.5,135.1 255.8,122.4 256.0,114.5 256.2,123.3 256.5,113.2 256.8,134.2 257.0,130.8 257.2,120.4 257.5,132.4 257.8,129.9 258.0,140.4 258.2,137.8 258.5,144.7 258.8,139.6 259.0,118.2 259.2,115.0 259.5,116.6 259.8,121.4 260.0,139.6 260.2,137.0 260.5,127.3 260.8,135.9 261.0,140.3 261.2,137.2 261.5,141.4 261.8,141.5 262.0,133.2 262.2,141.8 262.5,138.8 262.8,133.7 263.0,136.2 263.2,152.0 263.5,160.9 263.8,161.9 264.0,159.5 264.2,147.9 264.5,151.5 264.8,149.9 265.0,151.6 265.2,141.8 265.5,137.6 265.8,134.6 266.0,147.2 266.2,159.6 266.5,151.5 266.8,158.6 267.0,164.2 267.2,154.2 267.5,155.4 267.8,164.1 268.0,150.5 268.2,164.6 268.5,158.8 268.8,157.6 269.0,153.7 269.2,138.7 269.5,146.9 269.8,148.7 270.0,145.7 270.2,145.5 270.5,151.4 270.8,149.6 271.0,144.7 271.2,147.1 271.5,155.4 271.8,154.7 272.0,146.5 272.2,157.1 272.5,153.3 272.8,159.9 273.0,157.1 273.2,147.4 273.5,137.7 273.8,136.9 274.0,141.0 274.2,137.9 274.5,140.3 274.8,159.4 275.0,157.6 275.2,145.9 275.5,138.6 275.8,143.6 276.0,152.4 276.2,154.1 276.5,161.4 276.8,152.0 277.0,150.0 277.2,153.6 277.5,150.8 277.8,155.5 278.0,158.2 278.2,152.6 278.5,142.6 278.8,138.2 279.0,151.5 279.2,140.6 279.5,144.7 279.8,138.6 280.0,162.0 280.2,153.1 280.5,157.6 280.8,148.1 281.0,166.6 281.2,156.4 281.5,157.8 281.8,147.1 282.0,155.4 282.2,146.1 282.5,146.0 282.8,140.1 283.0,139.1 283.2,142.9 283.5,158.2 283.8,137.5 284.0,145.3 284.2,146.3 284.5,141.4 284.8,141.1 285.0,145.7 285.2,147.2 285.5,148.6 285.8,143.5 286.0,144.0 286.2,152.9 286.5,146.2 286.8,146.0 287.0,152.1 287.2,159.1 287.5,165.0 287.8,163.4 288.0,145.1 288.2,160.6 288.5,174.8 288.8,187.0 289.0,185.6 289.2,189.3 289.5,179.5 289.8,164.8 290.0,165.2 290.2,164.8 290.5,176.8 290.8,182.5 291.0,173.4 291.2,168.6 291.5,169.1 291.8,170.5 292.0,183.3 292.2,174.7 292.5,184.4 292.8,167.9 293.0,163.0 293.2,179.7 293.5,179.7 293.8,177.1 294.0,179.6 294.2,174.0 294.5,172.7 294.8,173.2 295.0,173.5 295.2,174.9 295.5,167.2 295.8,170.6 296.0,162.9 296.2,169.8 296.5,167.1 296.8,168.9 297.0,170.1 297.2,161.6 297.5,157.8 297.8,158.7 298.0,164.2 298.2,171.7 298.5,167.8 298.8,160.0 299.0,162.4 299.2,161.6 299.5,167.1 299.8,173.9 300.0,175.5 300.2,161.3 300.5,155.4 300.8,154.2 301.0,159.8 301.2,162.2 301.5,158.4 301.8,161.2 302.0,151.8 302.2,146.7 302.5,148.5 302.8,138.1 303.0,154.3 303.2,145.6 303.5,137.6 303.8,144.1 304.0,134.1 304.2,134.8 304.5,139.1 304.8,152.4 305.0,164.1 305.2,164.3 305.5,152.5 305.8,154.1 306.0,157.9 306.2,150.4 306.5,153.4 306.8,162.6 307.0,161.7 307.2,152.8 307.5,148.2 307.8,138.1 308.0,138.9 308.2,138.5 308.5,151.2 308.8,139.5 309.0,135.3 309.2,138.1 309.5,145.1 309.8,141.6 310.0,144.4 310.2,149.6 310.5,153.8 310.8,154.0 311.0,155.3 311.2,142.2 311.5,149.6 311.8,150.0 312.0,144.1 312.2,143.2 312.5,143.5 312.8,142.1 313.0,143.8 313.2,143.6 313.5,138.4 313.8,154.5 314.0,155.2 314.2,161.4 314.5,159.1 314.8,161.6 315.0,159.4 315.2,161.6 315.5,161.1 315.8,160.7 316.0,157.1 316.2,155.0 316.5,159.3 316.8,143.4 317.0,140.0 317.2,134.5 317.5,133.7 317.8,139.6 318.0,145.9 318.2,143.3 318.5,150.1 318.8,142.0 319.0,137.4 319.2,139.0 319.5,141.7 319.8,139.6 320.0,131.4 320.2,137.5 320.5,149.9 320.8,143.0 321.0,141.4 321.2,132.0 321.5,133.9 321.8,128.5 322.0,132.8 322.2,145.6 322.5,146.5 322.8,137.8 323.0,143.4 323.2,128.4 323.5,140.1 323.8,141.0 324.0,131.5 324.2,130.7 324.5,125.8 324.8,144.2 325.0,145.5 325.2,134.4 325.5,129.3 325.8,132.0 326.0,128.1 326.2,131.5 326.5,134.7 326.8,122.3 327.0,130.2 327.2,143.7 327.5,141.6 327.8,142.6 328.0,133.7 328.2,127.8 328.5,130.5 328.8,122.1 329.0,112.2 329.2,123.0 329.5,118.5 329.8,122.9 330.0,124.6 330.2,128.1 330.5,131.6 330.8,133.0 331.0,126.4 331.2,131.6 331.5,124.2 331.8,125.5 332.0,117.3 332.2,118.0 332.5,109.6 332.8,124.3 333.0,123.9 333.2,113.6 333.5,97.0 333.8,96.0 334.0,112.9 334.2,106.0 334.5,97.0 334.8,115.7 335.0,113.6 335.2,105.7 335.5,113.9 335.8,126.9 336.0,133.5 336.2,135.9 336.5,122.7 336.8,125.7 337.0,116.0 337.2,112.9 337.5,123.5 337.8,116.2 338.0,126.9 338.2,126.3 338.5,142.7 338.8,138.5 339.0,142.0 339.2,149.0 339.5,149.8 339.8,151.1 340.0,131.7 340.2,142.0 340.5,127.9 340.8,127.0 341.0,126.4 341.2,127.5 341.5,128.5 341.8,129.6 342.0,130.6 342.2,132.6 342.5,132.7 342.8,135.2 343.0,144.5 343.2,132.7 343.5,134.0 343.8,136.7 344.0,132.6 344.2,132.6 344.5,146.2 344.8,148.5 345.0,143.1 345.2,149.3 345.5,150.6 345.8,139.0 346.0,138.4 346.2,140.5 346.5,142.3 346.8,146.0 347.0,145.9 347.2,146.1 347.5,141.8 347.8,140.5 348.0,138.7 348.2,145.7 348.5,145.5 348.8,141.9 349.0,150.1 349.2,165.1 349.5,160.8 349.8,165.9 350.0,157.0 350.2,156.6 350.5,162.0 350.8,167.3 351.0,167.9 351.2,166.1 351.5,162.5 351.8,169.1 352.0,169.5 352.2,161.5 352.5,159.5 352.8,165.9 353.0,170.3 353.2,158.0 353.5,159.4 353.8,138.9 354.0,152.3 354.2,167.5 354.5,152.9 354.8,150.7 355.0,138.5 355.2,138.8 355.5,147.9 355.8,154.3 356.0,156.8 356.2,141.4 356.5,136.3 356.8,158.8 357.0,157.7 357.2,150.5 357.5,152.3 357.8,144.7 358.0,146.7 358.2,138.4 358.5,133.7 358.8,125.6 359.0,145.9 359.2,151.2 359.5,153.4 359.8,156.8 360.0,149.0 360.2,134.3 360.5,139.9 360.8,146.7 361.0,151.1 361.2,145.7 361.5,132.1 361.8,146.1 362.0,152.3 362.2,152.4 362.5,151.6 362.8,152.8 363.0,150.1 363.2,140.6 363.5,147.9 363.8,150.4 364.0,158.9 364.2,158.8 364.5,164.6 364.8,155.1 365.0,164.4 365.2,185.3 365.5,179.7 365.8,182.9 366.0,187.4 366.2,186.1 366.5,184.6 366.8,168.4 367.0,164.8 367.2,183.0 367.5,183.7 367.8,184.0 368.0,194.7 368.2,177.4 368.5,186.7 368.8,189.3 369.0,170.3 369.2,168.6 369.5,175.9 369.8,171.9 370.0,168.9 370.2,177.5 370.5,177.1 370.8,179.7 371.0,178.8 371.2,180.4 371.5,182.7 371.8,194.3 372.0,194.3 372.2,185.0 372.5,186.3 372.8,186.2 373.0,194.1 373.2,187.9 373.5,190.1 373.8,188.4 374.0,193.8 374.2,183.0 374.5,172.4 374.8,177.2 375.0,184.1 375.2,185.5 375.5,187.8 375.8,184.0 376.0,189.8 376.2,186.6 376.5,179.3 376.8,190.4 377.0,178.6 377.2,164.5 377.5,165.2 377.8,167.7 378.0,169.8 378.2,169.0 378.5,174.7 378.8,171.5 379.0,164.0 379.2,182.0 379.5,177.7 379.8,188.5 380.0,185.7 380.2,187.4 380.5,196.6 380.8,169.6 381.0,184.7 381.2,181.7 381.5,190.0 381.8,178.3 382.0,176.5 382.2,173.1 382.5,157.4 382.8,160.7 383.0,187.7 383.2,193.9 383.5,191.7 383.8,185.2 384.0,173.7 384.2,162.3 384.5,135.0 384.8,138.5 385.0,134.5 385.2,150.7 385.5,160.9 385.8,160.9 386.0,145.2 386.2,138.0 386.5,128.0 386.8,155.2 387.0,163.0 387.2,152.2 387.5,160.7 387.8,152.1 388.0,144.8 388.2,148.4 388.5,139.9 388.8,129.7 389.0,150.6 389.2,156.9 389.5,148.3 389.8,147.7 390.0,159.9 390.2,149.9 390.5,126.1 390.8,156.1 391.0,137.0 391.2,135.7 391.5,127.0 391.8,128.3 392.0,129.7 392.2,131.0 392.5,140.2 392.8,144.3 393.0,147.4 393.2,158.4 393.5,166.5 393.8,179.9 394.0,159.1 394.2,153.0 394.5,165.0 394.8,174.3 395.0,166.5 395.2,154.1 395.5,158.7 395.8,146.6 396.0,146.6 396.2,151.5 396.5,146.7 396.8,172.4 397.0,171.3 397.2,172.0 397.5,185.0 397.8,184.6 398.0,180.7 398.2,169.8 398.5,161.9 398.8,147.0 399.0,154.4 399.2,158.2 399.5,154.0 399.8,165.4 400.0,159.4 400.2,147.1 400.5,146.9 400.8,148.6 401.0,156.1 401.2,174.7 401.5,166.6 401.8,169.4 402.0,175.5 402.2,175.8 402.5,173.1 402.8,158.4 403.0,155.4 403.2,176.5 403.5,172.2 403.8,167.3 404.0,153.8 404.2,157.8 404.5,173.9 404.8,162.9 405.0,152.7 405.2,153.8 405.5,150.4 405.8,146.6 406.0,170.3 406.2,172.7 406.5,154.2 406.8,155.9 407.0,167.2 407.2,163.1 407.5,172.1 407.8,158.4 408.0,167.2 408.2,167.4 408.5,174.8 408.8,173.3 409.0,165.8 409.2,173.5 409.5,180.0 409.8,187.1 410.0,167.6 410.2,165.6 410.5,167.7 410.8,168.5 411.0,168.3 411.2,173.8 411.5,192.3 411.8,205.2 412.0,205.4 412.2,205.6 412.5,163.4 412.8,164.2 413.0,176.7 413.2,169.9 413.5,187.2 413.8,179.9 414.0,183.9 414.2,180.7 414.5,185.8 414.8,172.7 415.0,175.6 415.2,172.2 415.5,171.1 415.8,170.4 416.0,176.2 416.2,169.0 416.5,179.7 416.8,178.9 417.0,183.4 417.2,181.7 417.5,180.0 417.8,168.2 418.0,193.6 418.2,195.5 418.5,194.5 418.8,170.1 419.0,165.5 419.2,161.8 419.5,166.6 419.8,162.3 420.0,169.7 420.2,169.9 420.5,174.7 420.8,180.3 421.0,167.3 421.2,159.7 421.5,151.4 421.8,161.0 422.0,158.5 422.2,144.4 422.5,140.9 422.8,150.9 423.0,154.3 423.2,158.3 423.5,156.6 423.8,146.7 424.0,165.3 424.2,166.3 424.5,170.0 424.8,162.3 425.0,180.1 425.2,168.8 425.5,165.6 425.8,159.3 426.0,157.0 426.2,170.6 426.5,168.5 426.8,161.9 427.0,168.5 427.2,172.0 427.5,178.8 427.8,177.0 428.0,185.9 428.2,174.7 428.5,176.9 428.8,189.3 429.0,221.7 429.2,182.1 429.5,192.5 429.8,194.6 430.0,208.9 430.2,194.1 430.5,200.1 430.8,208.9 431.0,191.2 431.2,187.3 431.5,201.2 431.8,198.3 432.0,207.6 432.2,206.4 432.5,190.5 432.8,194.6 433.0,199.7 433.2,193.9 433.5,204.8 433.8,189.9 434.0,192.0 434.2,190.7 434.5,185.3 434.8,181.9 435.0,181.7 435.2,181.4 435.5,181.2 435.8,180.9 436.0,181.3 436.2,183.7 436.5,182.9 436.8,187.0 437.0,193.5 437.2,180.0 437.5,183.4 437.8,175.0 438.0,189.0 438.2,180.5 438.5,178.7 438.8,185.0 439.0,186.6 439.2,191.0 439.5,196.5 439.8,190.1 440.0,197.1 440.2,189.9 440.5,185.0 440.8,190.4 441.0,169.2 441.2,168.2 441.5,170.8 441.8,181.1 442.0,175.1 442.2,184.5 442.5,174.0 442.8,185.2 443.0,190.9 443.2,183.3 443.5,180.8 443.8,180.3 444.0,178.6 444.2,176.2 444.5,190.8 444.8,192.5 445.0,194.0 445.2,179.0 445.5,180.7 445.8,190.1 446.0,188.7 446.2,183.1 446.5,182.4 446.8,188.0 447.0,184.8 447.2,171.0 447.5,170.9 447.8,174.4 448.0,170.6 448.2,171.8 448.5,177.6 448.8,191.3 449.0,191.3 449.2,189.9 449.5,173.1 449.8,174.3 450.0,163.5 450.2,159.8 450.5,168.3 450.8,162.0 451.0,167.0 451.2,166.6 451.5,170.9 451.8,166.1 452.0,163.3 452.2,172.8 452.5,173.2 452.8,170.9 453.0,167.0 453.2,168.0 453.5,164.0 453.8,166.0 454.0,162.5 454.2,149.4 454.5,145.6 454.8,145.2 455.0,147.2 455.2,169.4 455.5,163.9 455.8,158.0 456.0,156.5 456.2,157.7 456.5,168.0 456.8,163.5 457.0,155.1 457.2,156.3 457.5,154.9 457.8,168.2 458.0,168.0 458.2,169.7 458.5,171.1 458.8,161.0 459.0,168.3 459.2,175.8 459.5,175.3 459.8,181.0 460.0,180.4 460.2,182.4 460.5,191.1 460.8,188.5 461.0,194.4 461.2,195.7 461.5,196.6 461.8,194.0 462.0,191.3 462.2,195.8 462.5,208.8 462.8,211.6 463.0,220.5 463.2,216.7 463.5,201.0 463.8,212.8 464.0,210.5 464.2,218.7 464.5,221.2 464.8,223.8 465.0,222.2 465.2,191.3 465.5,204.3 465.8,208.0 466.0,221.7 466.2,219.9 466.5,218.0 466.8,219.4 467.0,202.7 467.2,204.9 467.5,210.9 467.8,214.0 468.0,204.4 468.2,191.9 468.5,192.4 468.8,197.4 469.0,201.9 469.2,213.4 469.5,216.6 469.8,208.3 470.0,210.3 470.2,205.3 470.5,209.0 470.8,202.5 471.0,210.1 471.2,203.5 471.5,200.2 471.8,194.4 472.0,201.3 472.2,201.0 472.5,202.9 472.8,206.1 473.0,197.8 473.2,208.4 473.5,209.4 473.8,206.9 474.0,204.0 474.2,200.5 474.5,196.3 474.8,203.7 475.0,203.6 475.2,202.1 475.5,197.4 475.8,199.6 476.0,214.0 476.2,213.5 476.5,194.3 476.8,186.2 477.0,192.4 477.2,186.4 477.5,193.1 477.8,200.7 478.0,206.0 478.2,215.2 478.5,209.3 478.8,207.6 479.0,200.7 479.2,191.4 479.5,189.1 479.8,202.6 480.0,211.0 480.2,201.5 480.5,205.7 480.8,202.1 481.0,206.3 481.2,198.1 481.5,199.4 481.8,198.9 482.0,192.1 482.2,189.3 482.5,187.5 482.8,189.2 483.0,200.0 483.2,203.3 483.5,202.4 483.8,201.6 484.0,200.7 484.2,193.1 484.5,191.0 484.8,195.9 485.0,194.1 485.2,187.1 485.5,190.4 485.8,191.0 486.0,191.4 486.2,187.1 486.5,192.6 486.8,190.8 487.0,185.6 487.2,187.6 487.5,193.2 487.8,202.7 488.0,205.3 488.2,190.6 488.5,200.3 488.8,203.5 489.0,205.2 489.2,211.1 489.5,212.3 489.8,213.5 490.0,213.4 490.2,205.2 490.5,206.6 490.8,209.4 491.0,202.0 491.2,219.3 491.5,221.6 491.8,222.8 492.0,222.3 492.2,221.5 492.5,220.7 492.8,219.8 493.0,219.0 493.2,218.2 493.5,203.9 493.8,211.0 494.0,194.7 494.2,189.7 494.5,196.5 494.8,195.1 495.0,208.7 495.2,205.4 495.5,207.1 495.8,209.9 496.0,207.0 496.2,207.2 496.5,192.5 496.8,207.2 497.0,204.3 497.2,200.0 497.5,194.7 497.8,196.5 498.0,192.3 498.2,194.7 498.5,190.5 498.8,182.1 499.0,180.7 499.2,179.9 499.5,185.6 499.8,187.8 500.0,184.9 500.2,188.0 500.5,183.8 500.8,184.4 501.0,183.1 501.2,186.1 501.5,180.3 501.8,181.0 502.0,181.9 502.2,177.0 502.5,179.6 502.8,180.6 503.0,185.3 503.2,179.7 503.5,174.6"/>
<polyline fill="none" stroke="#00ff00" stroke-width="1" shape-rendering="crispEdges" stroke-linejoin="round" points="45.0,239.0 45.2,241.9 45.5,241.5 45.8,227.6 46.0,229.5 46.2,230.1 46.5,232.4 46.8,230.0 47.0,232.5 47.2,231.1 47.5,224.2 47.8,235.3 48.0,242.7 48.2,252.4 48.5,248.5 48.8,241.8 49.0,236.2 49.2,225.0 49.5,236.8 49.8,228.6 50.0,222.5 50.2,225.8 50.5,240.9 50.8,240.9 51.0,231.1 51.2,227.0 51.5,234.5 51.8,233.3 52.0,227.6 52.2,228.0 52.5,235.6 52.8,248.7 53.0,234.3 53.2,228.8 53.5,223.7 53.8,217.2 54.0,216.9 54.2,216.6 54.5,225.0 54.8,225.8 55.0,215.5 55.2,225.1 55.5,224.0 55.8,215.1 56.0,214.9 56.2,214.9 56.5,214.6 56.8,219.0 57.0,214.3 57.2,214.2 57.5,225.3 57.8,233.0 58.0,239.9 58.2,243.6 58.5,243.4 58.8,233.8 59.0,238.2 59.2,220.2 59.5,218.1 59.8,212.7 60.0,221.9 60.2,233.8 60.5,229.6 60.8,241.3 61.0,230.9 61.2,230.1 61.5,229.4 61.8,219.9 62.0,224.6 62.2,238.5 62.5,225.8 62.8,231.4 63.0,227.3 63.2,237.1 63.5,236.0 63.8,235.8 64.0,235.3 64.2,232.1 64.5,218.6 64.8,228.8 65.0,216.6 65.2,219.6 65.5,224.2 65.8,217.2 66.0,219.4 66.2,227.7 66.5,225.0 66.8,217.2 67.0,207.0 67.2,206.9 67.5,206.8 67.8,206.7 68.0,206.6 68.2,211.8 68.5,210.6 68.8,213.0 69.0,220.0 69.2,213.8 69.5,213.7 69.8,230.7 70.0,232.8 70.2,218.9 70.5,218.4 70.8,222.5 71.0,229.9 71.2,227.1 71.5,220.4 71.8,214.6 72.0,220.5 72.2,222.0 72.5,217.1 72.8,216.0 73.0,213.6 73.2,219.8 73.5,214.0 73.8,218.2 74.0,223.2 74.2,223.9 74.5,215.4 74.8,224.2 75.0,216.5 75.2,218.6 75.5,212.3 75.8,202.4 76.0,207.6 76.2,211.5 76.5,211.7 76.8,213.8 77.0,209.5 77.2,206.2 77.5,207.3 77.8,220.3 78.0,222.5 78.2,216.0 78.5,218.2 78.8,213.5 79.0,210.5 79.2,216.6 79.5,212.1 79.8,202.2 80.0,201.0 80.2,205.3 80.5,208.9 80.8,218.1 81.0,212.0 81.2,217.0 81.5,218.5 81.8,215.8 82.0,220.3 82.2,221.1 82.5,212.9 82.8,220.2 83.0,209.9 83.2,211.6 83.5,212.4 83.8,215.7 84.0,210.3 84.2,211.3 84.5,211.3 84.8,219.0 85.0,211.9 85.2,213.3 85.5,212.0 85.8,204.3 86.0,226.0 86.2,221.7 86.5,209.6 86.8,221.1 87.0,212.1 87.2,215.9 87.5,221.7 87.8,215.5 88.0,213.0 88.2,210.7 88.5,212.0 88.8,203.9 89.0,204.1 89.2,205.1 89.5,216.2 89.8,220.8 90.0,230.1 90.2,231.7 90.5,225.4 90.8,223.7 91.0,208.4 91.2,207.6 91.5,208.1 91.8,214.2 92.0,240.0 92.2,219.9 92.5,216.9 92.8,209.4 93.0,212.4 93.2,218.6 93.5,223.8 93.8,217.9 94.0,234.0 94.2,236.9 94.5,231.8 94.8,224.8 95.0,221.7 95.2,222.6 95.5,222.0 95.8,224.4 96.0,227.4 96.2,231.6 96.5,230.9 96.8,228.0 97.0,226.8 97.2,222.2 97.5,218.1 97.8,227.8 98.0,222.2 98.2,228.3 98.5,224.4 98.8,223.3 99.0,226.6 99.2,223.3 99.5,223.0 99.8,219.4 100.0,215.8 100.2,214.9 100.5,211.7 100.8,221.3 101.0,218.2 101.2,225.1 101.5,207.9 101.8,210.1 102.0,214.2 102.2,212.4 102.5,218.4 102.8,219.9 103.0,216.0 103.2,217.2 103.5,223.2 103.8,223.1 104.0,222.5 104.2,216.6 104.5,215.7 104.8,207.5 105.0,207.9 105.2,222.3 105.5,222.2 105.8,222.0 106.0,221.9 106.2,221.8 106.5,221.6 106.8,221.5 107.0,221.4 107.2,221.2 107.5,221.1 107.8,209.4 108.0,206.5 108.2,209.1 108.5,204.3 108.8,205.2 109.0,203.1 109.2,201.6 109.5,219.2 109.8,219.1 110.0,215.2 110.2,219.4 110.5,214.2 110.8,216.5 111.0,215.0 111.2,217.6 111.5,207.9 111.8,211.2 112.0,209.8 112.2,201.9 112.5,208.4 112.8,202.4 113.0,211.3 113.2,211.1 113.5,211.8 113.8,209.0 114.0,211.2 114.2,198.5 114.5,199.9 114.8,197.2 115.0,199.9 115.2,199.8 115.5,202.9 115.8,197.7 116.0,207.1 116.2,208.9 116.5,208.3 116.8,204.6 117.0,203.5 117.2,207.1 117.5,206.7 117.8,201.3 118.0,196.7 118.2,191.2 118.5,187.1 118.8,186.0 119.0,187.8 119.2,184.9 119.5,195.4 119.8,199.8 120.0,191.9 120.2,186.2 120.5,184.6 120.8,194.4 121.0,188.1 121.2,180.4 121.5,182.9 121.8,186.6 122.0,183.2 122.2,192.8 122.5,191.5 122.8,191.4 123.0,184.1 123.2,183.3 123.5,181.9 123.8,171.4 124.0,174.0 124.2,169.2 124.5,169.4 124.8,167.1 125.0,180.0 125.2,180.7 125.5,184.2 125.8,186.5 126.0,174.6 126.2,164.2 126.5,164.1 126.8,172.4 127.0,173.1 127.2,177.0 127.5,180.1 127.8,169.4 128.0,171.9 128.2,182.8 128.5,176.0 128.8,163.2 129.0,164.9 129.2,164.6 129.5,169.6 129.8,165.0 130.0,167.9 130.2,160.3 130.5,167.1 130.8,178.8 131.0,184.6 131.2,171.6 131.5,174.2 131.8,161.8 132.0,164.2 132.2,167.3 132.5,164.0 132.8,169.7 133.0,172.3 133.2,178.7 133.5,178.2 133.8,178.5 134.0,166.4 134.2,164.4 134.5,165.0 134.8,170.6 135.0,172.6 135.2,182.4 135.5,175.6 135.8,174.7 136.0,177.0 136.2,175.9 136.5,179.3 136.8,175.6 137.0,184.4 137.2,180.5 137.5,186.1 137.8,183.4 138.0,189.6 138.2,178.4 138.5,181.7 138.8,178.5 139.0,180.3 139.2,187.0 139.5,178.1 139.8,171.3 140.0,169.0 140.2,174.5 140.5,169.4 140.8,171.8 141.0,169.8 141.2,170.0 141.5,170.2 141.8,176.0 142.0,174.6 142.2,174.5 142.5,177.1 142.8,177.5 143.0,170.8 143.2,170.5 143.5,172.6 143.8,182.3 144.0,193.4 144.2,193.4 144.5,189.9 144.8,180.7 145.0,181.2 145.2,185.8 145.5,191.9 145.8,182.2 146.0,182.9 146.2,187.1 146.5,192.6 146.8,192.3 147.0,184.2 147.2,177.7 147.5,175.7 147.8,171.9 148.0,179.1 148.2,185.0 148.5,186.3 148.8,188.4 149.0,181.1 149.2,180.6 149.5,175.1 149.8,174.0 150.0,180.6 150.2,176.6 150.5,162.2 150.8,162.7 151.0,160.0 151.2,156.1 151.5,156.4 151.8,165.2 152.0,177.0 152.2,171.7 152.5,177.3 152.8,182.0 153.0,171.5 153.2,171.4 153.5,171.4 153.8,172.9 154.0,163.6 154.2,165.1 154.5,174.3 154.8,181.5 155.0,185.0 155.2,182.5 155.5,185.7 155.8,186.1 156.0,177.0 156.2,181.1 156.5,177.6 156.8,180.4 157.0,178.8 157.2,185.2 157.5,184.2 157.8,180.5 158.0,185.4 158.2,184.6 158.5,180.4 158.8,187.5 159.0,182.5 159.2,177.9 159.5,175.5 159.8,168.6 160.0,169.6 160.2,184.9 160.5,178.2 160.8,179.6 161.0,173.7 161.2,173.0 161.5,186.0 161.8,190.9 162.0,184.8 162.2,184.9 162.5,179.7 162.8,176.7 163.0,174.0 163.2,172.9 163.5,179.9 163.8,186.8 164.0,190.9 164.2,189.1 164.5,179.6 164.8,182.8 165.0,178.8 165.2,189.6 165.5,194.5 165.8,199.4 166.0,194.5 166.2,180.2 166.5,192.4 166.8,202.2 167.0,188.8 167.2,192.2 167.5,201.9 167.8,192.7 168.0,205.9 168.2,200.7 168.5,193.0 168.8,203.5 169.0,203.7 169.2,198.5 169.5,204.1 169.8,192.3 170.0,209.0 170.2,198.5 170.5,199.6 170.8,196.4 171.0,198.6 171.2,202.2 171.5,194.9 171.8,198.8 172.0,195.0 172.2,189.9 172.5,189.0 172.8,183.5 173.0,180.7 173.2,189.1 173.5,187.7 173.8,194.5 174.0,194.4 174.2,185.2 174.5,174.8 174.8,174.3 175.0,179.2 175.2,181.0 175.5,176.9 175.8,185.4 176.0,173.8 176.2,171.3 176.5,174.3 176.8,190.3 177.0,189.5 177.2,180.1 177.5,183.7 177.8,186.4 178.0,189.5 178.2,183.1 178.5,176.3 178.8,177.4 179.0,180.0 179.2,189.1 179.5,189.9 179.8,186.4 180.0,180.1 180.2,178.9 180.5,176.9 180.8,180.1 181.0,182.2 181.2,182.1 181.5,188.7 181.8,183.8 182.0,175.0 182.2,166.2 182.5,165.3 182.8,165.2 183.0,165.2 183.2,167.2 183.5,171.8 183.8,171.0 184.0,167.5 184.2,164.7 184.5,164.4 184.8,177.2 185.0,163.9 185.2,168.1 185.5,175.1 185.8,175.8 186.0,173.4 186.2,178.4 186.5,170.0 186.8,174.7 187.0,183.1 187.2,173.2 187.5,168.1 187.8,170.5 188.0,177.3 188.2,183.8 188.5,183.8 188.8,175.4 189.0,167.2 189.2,170.2 189.5,173.0 189.8,165.8 190.0,168.0 190.2,171.0 190.5,177.0 190.8,168.9 191.0,172.7 191.2,165.1 191.5,164.5 191.8,166.0 192.0,175.7 192.2,180.6 192.5,180.3 192.8,180.1 193.0,179.8 193.2,170.7 193.5,174.1 193.8,165.7 194.0,175.1 194.2,178.6 194.5,178.3 194.8,170.6 195.0,177.8 195.2,175.6 195.5,173.5 195.8,174.4 196.0,163.4 196.2,167.0 196.5,172.3 196.8,172.4 197.0,171.4 197.2,164.9 197.5,169.1 197.8,169.5 198.0,168.7 198.2,165.0 198.5,170.4 198.8,176.1 199.0,175.1 199.2,177.3 199.5,177.9 199.8,177.9 200.0,177.9 200.2,174.2 200.5,169.5 200.8,169.0 201.0,172.1 201.2,176.7 201.5,171.4 201.8,171.6 202.0,164.7 202.2,174.6 202.5,170.6 202.8,173.0 203.0,167.6 203.2,167.0 203.5,164.0 203.8,178.3 204.0,178.7 204.2,175.6 204.5,168.2 204.8,165.8 205.0,172.6 205.2,184.8 205.5,170.6 205.8,165.1 206.0,166.7 206.2,164.6 206.5,159.8 206.8,162.3 207.0,170.8 207.2,161.1 207.5,166.4 207.8,174.5 208.0,179.7 208.2,174.2 208.5,183.7 208.8,183.4 209.0,175.3 209.2,179.6 209.5,170.1 209.8,175.5 210.0,166.8 210.2,172.7 210.5,169.3 210.8,176.7 211.0,179.5 211.2,179.9 211.5,178.1 211.8,182.8 212.0,169.9 212.2,174.1 212.5,176.9 212.8,179.6 213.0,183.0 213.2,186.7 213.5,187.1 213.8,187.5 214.0,187.9 214.2,188.3 214.5,177.0 214.8,187.1 215.0,180.6 215.2,168.1 215.5,167.8 215.8,168.7 216.0,172.7 216.2,173.8 216.5,179.0 216.8,177.7 217.0,176.6 217.2,165.6 217.5,170.9 217.8,177.2 218.0,173.9 218.2,164.3 218.5,164.0 218.8,173.3 219.0,169.9 219.2,168.3 219.5,166.6 219.8,173.3 220.0,171.5 220.2,169.0 220.5,166.6 220.8,168.6 221.0,177.6 221.2,177.5 221.5,183.3 221.8,183.5 222.0,183.7 222.2,184.2 222.5,184.0 222.8,189.6 223.0,190.5 223.2,185.2 223.5,186.0 223.8,185.6 224.0,188.8 224.2,188.5 224.5,189.5 224.8,179.1 225.0,183.1 225.2,191.0 225.5,180.6 225.8,190.8 226.0,189.8 226.2,186.2 226.5,174.7 226.8,183.6 227.0,177.7 227.2,176.3 227.5,181.3 227.8,175.6 228.0,172.1 228.2,170.6 228.5,172.4 228.8,178.6 229.0,181.7 229.2,183.9 229.5,181.2 229.8,182.1 230.0,178.0 230.2,191.2 230.5,189.3 230.8,174.9 231.0,170.8 231.2,184.8 231.5,175.3 231.8,175.0 232.0,180.3 232.2,174.4 232.5,184.8 232.8,195.6 233.0,186.7 233.2,193.6 233.5,185.3 233.8,179.3 234.0,183.6 234.2,186.6 234.5,183.2 234.8,190.5 235.0,180.5 235.2,177.9 235.5,175.2 235.8,183.2 236.0,189.2 236.2,192.0 236.5,181.1 236.8,182.9 237.0,186.0 237.2,174.6 237.5,172.0 237.8,179.5 238.0,184.4 238.2,184.6 238.5,186.3 238.8,185.9 239.0,184.3 239.2,181.4 239.5,174.7 239.8,174.0 240.0,172.3 240.2,188.0 240.5,185.9 240.8,182.9 241.0,179.7 241.2,178.4 241.5,176.7 241.8,180.5 242.0,179.6 242.2,184.1 242.5,178.1 242.8,180.5 243.0,185.2 243.2,176.3 243.5,178.4 243.8,180.3 244.0,178.2 244.2,176.0 244.5,168.7 244.8,178.1 245.0,173.7 245.2,169.3 245.5,176.9 245.8,169.7 246.0,178.0 246.2,181.6 246.5,185.1 246.8,183.3 247.0,176.6 247.2,172.1 247.5,182.0 247.8,180.3 248.0,179.2 248.2,189.8 248.5,185.0 248.8,184.2 249.0,183.8 249.2,184.3 249.5,180.1 249.8,180.0 250.0,189.6 250.2,193.2 250.5,178.8 250.8,179.3 251.0,179.9 251.2,183.2 251.5,183.5 251.8,190.4 252.0,180.9 252.2,189.2 252.5,189.3 252.8,191.2 253.0,190.8 253.2,193.3 253.5,189.6 253.8,185.6 254.0,189.2 254.2,188.5 254.5,181.2 254.8,188.6 255.0,192.6 255.2,193.2 255.5,191.9 255.8,190.2 256.0,185.7 256.2,179.8 256.5,180.7 256.8,181.7 257.0,178.3 257.2,187.6 257.5,177.4 257.8,174.3 258.0,172.9 258.2,181.1 258.5,179.0 258.8,177.2 259.0,173.2 259.2,171.0 259.5,168.4 259.8,175.2 260.0,178.6 260.2,182.5 260.5,176.9 260.8,185.5 261.0,179.0 261.2,167.3 261.5,168.2 261.8,170.7 262.0,175.3 262.2,169.3 262.5,173.3 262.8,181.4 263.0,173.5 263.2,168.8 263.5,161.1 263.8,165.0 264.0,171.1 264.2,174.4 264.5,176.8 264.8,179.4 265.0,177.3 265.2,178.6 265.5,169.6 265.8,164.1 266.0,166.1 266.2,161.3 266.5,165.8 266.8,173.3 267.0,172.7 267.2,165.6 267.5,160.6 267.8,170.0 268.0,162.9 268.2,163.5 268.5,161.7 268.8,162.3 269.0,169.5 269.2,163.4 269.5,153.4 269.8,165.9 270.0,165.8 270.2,169.2 270.5,166.1 270.8,169.6 271.0,174.6 271.2,174.5 271.5,171.1 271.8,165.0 272.0,166.7 272.2,166.5 272.5,169.1 272.8,161.8 273.0,148.6 273.2,155.2 273.5,163.7 273.8,168.4 274.0,177.4 274.2,177.6 274.5,171.9 274.8,176.4 275.0,172.1 275.2,178.5 275.5,176.0 275.8,175.8 276.0,174.4 276.2,172.5 276.5,161.5 276.8,165.0 277.0,157.1 277.2,162.6 277.5,172.4 277.8,184.1 278.0,183.8 278.2,176.3 278.5,166.5 278.8,181.9 279.0,171.8 279.2,179.5 279.5,166.2 279.8,170.6 280.0,178.2 280.2,181.3 280.5,181.5 280.8,177.5 281.0,174.8 281.2,184.0 281.5,186.4 281.8,183.6 282.0,183.6 282.2,176.8 282.5,183.1 282.8,188.4 283.0,179.7 283.2,178.8 283.5,183.5 283.8,176.3 284.0,186.0 284.2,185.2 284.5,182.3 284.8,183.5 285.0,182.7 285.2,174.2 285.5,176.3 285.8,172.9 286.0,170.2 286.2,174.0 286.5,169.2 286.8,160.6 287.0,157.0 287.2,159.4 287.5,166.0 287.8,166.4 288.0,165.9 288.2,166.2 288.5,173.9 288.8,174.4 289.0,167.4 289.2,165.4 289.5,172.5 289.8,166.9 290.0,164.3 290.2,164.6 290.5,159.0 290.8,166.3 291.0,154.5 291.2,165.8 291.5,163.0 291.8,156.4 292.0,160.9 292.2,153.4 292.5,159.6 292.8,165.8 293.0,161.8 293.2,160.2 293.5,167.2 293.8,161.9 294.0,162.6 294.2,165.1 294.5,174.1 294.8,167.2 295.0,166.0 295.2,172.0 295.5,152.6 295.8,154.4 296.0,150.2 296.2,150.0 296.5,159.7 296.8,161.8 297.0,171.1 297.2,166.1 297.5,167.6 297.8,162.5 298.0,158.3 298.2,158.5 298.5,159.8 298.8,169.1 299.0,164.4 299.2,164.9 299.5,161.2 299.8,161.1 300.0,152.3 300.2,160.8 300.5,156.7 300.8,157.2 301.0,156.0 301.2,162.0 301.5,163.2 301.8,160.9 302.0,160.2 302.2,160.7 302.5,163.1 302.8,163.4 303.0,167.2 303.2,167.6 303.5,168.0 303.8,159.2 304.0,168.7 304.2,169.0 304.5,168.9 304.8,163.1 305.0,149.8 305.2,157.8 305.5,152.6 305.8,166.1 306.0,149.4 306.2,153.8 306.5,160.4 306.8,158.3 307.0,154.7 307.2,158.7 307.5,156.7 307.8,156.6 308.0,158.0 308.2,155.7 308.5,156.2 308.8,163.0 309.0,159.8 309.2,161.3 309.5,156.1 309.8,163.9 310.0,153.9 310.2,162.8 310.5,146.9 310.8,146.6 311.0,146.4 311.2,151.6 311.5,156.4 311.8,147.8 312.0,147.6 312.2,161.8 312.5,160.4 312.8,164.3 313.0,151.0 313.2,144.9 313.5,152.8 313.8,172.2 314.0,163.6 314.2,166.3 314.5,157.1 314.8,166.7 315.0,160.9 315.2,157.3 315.5,146.5 315.8,147.4 316.0,152.9 316.2,164.3 316.5,154.9 316.8,162.8 317.0,159.4 317.2,157.6 317.5,152.4 317.8,148.0 318.0,147.9 318.2,158.1 318.5,150.9 318.8,151.0 319.0,161.0 319.2,147.3 319.5,153.8 319.8,152.2 320.0,155.8 320.2,162.7 320.5,160.4 320.8,158.5 321.0,163.7 321.2,166.6 321.5,158.8 321.8,157.5 322.0,148.3 322.2,161.3 322.5,151.6 322.8,155.4 323.0,169.0 323.2,170.8 323.5,163.8 323.8,156.0 324.0,151.6 324.2,159.7 324.5,160.6 324.8,158.7 325.0,169.9 325.2,162.3 325.5,156.1 325.8,152.7 326.0,154.5 326.2,156.1 326.5,153.1 326.8,157.7 327.0,159.2 327.2,154.5 327.5,139.9 327.8,147.2 328.0,142.0 328.2,140.4 328.5,142.5 328.8,137.6 329.0,137.2 329.2,139.9 329.5,140.1 329.8,144.4 330.0,139.2 330.2,139.8 330.5,134.5 330.8,136.1 331.0,140.8 331.2,140.1 331.5,132.6 331.8,134.2 332.0,138.0 332.2,147.0 332.5,144.8 332.8,141.2 333.0,133.6 333.2,150.4 333.5,141.1 333.8,133.8 334.0,135.9 334.2,130.7 334.5,139.0 334.8,141.6 335.0,145.5 335.2,137.7 335.5,135.9 335.8,144.4 336.0,150.4 336.2,158.5 336.5,158.6 336.8,145.4 337.0,145.3 337.2,142.0 337.5,150.5 337.8,147.4 338.0,149.7 338.2,145.2 338.5,149.2 338.8,158.1 339.0,148.3 339.2,131.2 339.5,129.7 339.8,144.2 340.0,145.0 340.2,141.6 340.5,134.2 340.8,144.4 341.0,145.3 341.2,142.7 341.5,137.7 341.8,137.2 342.0,135.6 342.2,141.1 342.5,150.0 342.8,131.1 343.0,125.1 343.2,127.2 343.5,131.4 343.8,124.1 344.0,123.8 344.2,124.2 344.5,125.0 344.8,125.3 345.0,128.3 345.2,138.1 345.5,143.5 345.8,146.1 346.0,145.3 346.2,136.7 346.5,132.9 346.8,140.4 347.0,140.5 347.2,146.5 347.5,145.9 347.8,143.8 348.0,145.9 348.2,129.5 348.5,131.2 348.8,128.4 349.0,140.3 349.2,134.4 349.5,139.0 349.8,136.3 350.0,142.8 350.2,149.3 350.5,145.6 350.8,146.1 351.0,147.3 351.2,153.3 351.5,148.1 351.8,148.0 352.0,144.3 352.2,137.9 352.5,143.2 352.8,148.8 353.0,142.8 353.2,158.0 353.5,149.8 353.8,156.3 354.0,157.4 354.2,142.4 354.5,145.4 354.8,138.6 355.0,140.8 355.2,149.5 355.5,163.1 355.8,164.4 356.0,149.6 356.2,148.1 356.5,159.3 356.8,157.9 357.0,165.8 357.2,157.2 357.5,152.1 357.8,144.1 358.0,144.9 358.2,155.0 358.5,148.9 358.8,155.0 359.0,156.5 359.2,159.1 359.5,154.9 359.8,153.6 360.0,163.3 360.2,152.5 360.5,155.8 360.8,162.1 361.0,160.2 361.2,161.6 361.5,143.1 361.8,143.2 362.0,139.1 362.2,139.3 362.5,141.5 362.8,146.0 363.0,141.5 363.2,148.0 363.5,138.5 363.8,146.3 364.0,144.5 364.2,136.2 364.5,135.8 364.8,135.5 365.0,135.2 365.2,135.2 365.5,144.0 365.8,148.5 366.0,139.6 366.2,135.2 366.5,135.2 366.8,135.2 367.0,135.2 367.2,135.2 367.5,151.1 367.8,139.1 368.0,142.5 368.2,153.3 368.5,147.8 368.8,142.1 369.0,152.0 369.2,137.4 369.5,135.2 369.8,135.2 370.0,135.8 370.2,143.0 370.5,142.7 370.8,155.1 371.0,150.1 371.2,148.1 371.5,145.2 371.8,151.5 372.0,149.1 372.2,145.5 372.5,154.1 372.8,156.7 373.0,156.7 373.2,147.3 373.5,141.2 373.8,141.5 374.0,141.7 374.2,141.0 374.5,141.6 374.8,146.4 375.0,141.4 375.2,144.3 375.5,143.1 375.8,142.0 376.0,142.2 376.2,147.2 376.5,148.2 376.8,143.5 377.0,145.6 377.2,146.0 377.5,147.7 377.8,145.1 378.0,150.2 378.2,150.1 378.5,141.2 378.8,134.2 379.0,132.2 379.2,135.6 379.5,133.4 379.8,133.9 380.0,136.0 380.2,146.0 380.5,155.2 380.8,152.2 381.0,155.1 381.2,155.0 381.5,154.9 381.8,151.8 382.0,137.9 382.2,141.9 382.5,151.0 382.8,134.3 383.0,135.8 383.2,139.1 383.5,144.3 383.8,134.4 384.0,132.2 384.2,142.8 384.5,156.5 384.8,152.2 385.0,156.4 385.2,152.8 385.5,152.6 385.8,146.2 386.0,143.3 386.2,138.9 386.5,141.4 386.8,150.9 387.0,150.0 387.2,153.2 387.5,145.3 387.8,150.9 388.0,131.0 388.2,132.0 388.5,132.9 388.8,133.9 389.0,136.9 389.2,143.0 389.5,139.7 389.8,144.5 390.0,138.6 390.2,139.6 390.5,140.9 390.8,141.5 391.0,148.8 391.2,147.5 391.5,155.9 391.8,155.3 392.0,157.5 392.2,153.1 392.5,153.6 392.8,153.4 393.0,156.3 393.2,163.7 393.5,159.6 393.8,158.9 394.0,161.0 394.2,165.0 394.5,163.0 394.8,160.6 395.0,158.2 395.2,159.6 395.5,161.7 395.8,158.8 396.0,158.8 396.2,164.1 396.5,163.9 396.8,161.3 397.0,165.9 397.2,169.1 397.5,170.8 397.8,172.4 398.0,168.3 398.2,168.7 398.5,169.7 398.8,169.5 399.0,160.2 399.2,163.0 399.5,166.7 399.8,170.0 400.0,168.3 400.2,169.0 400.5,160.5 400.8,160.3 401.0,160.7 401.2,161.1 401.5,168.6 401.8,178.5 402.0,170.9 402.2,174.9 402.5,180.6 402.8,176.8 403.0,166.2 403.2,176.2 403.5,174.1 403.8,172.6 404.0,182.0 404.2,181.8 404.5,183.4 404.8,184.2 405.0,182.6 405.2,174.7 405.5,178.4 405.8,176.8 406.0,179.5 406.2,179.5 406.5,173.4 406.8,173.5 407.0,171.7 407.2,170.9 407.5,171.4 407.8,173.7 408.0,174.5 408.2,167.0 408.5,172.3 408.8,164.5 409.0,179.2 409.2,172.5 409.5,171.9 409.8,179.2 410.0,175.5 410.2,167.0 410.5,160.5 410.8,165.7 411.0,169.7 411.2,174.6 411.5,174.6 411.8,170.4 412.0,172.8 412.2,179.7 412.5,171.7 412.8,179.7 413.0,179.5 413.2,179.3 413.5,179.1 413.8,178.9 414.0,178.7 414.2,178.5 414.5,178.3 414.8,163.6 415.0,167.5 415.2,165.1 415.5,161.9 415.8,164.3 416.0,166.1 416.2,168.9 416.5,165.1 416.8,172.6 417.0,160.3 417.2,158.7 417.5,159.1 417.8,162.6 418.0,163.5 418.2,169.7 418.5,167.2 418.8,176.3 419.0,179.6 419.2,175.8 419.5,168.0 419.8,166.9 420.0,167.8 420.2,174.4 420.5,179.1 420.8,173.5 421.0,182.9 421.2,180.2 421.5,171.8 421.8,178.2 422.0,182.7 422.2,180.9 422.5,176.3 422.8,180.8 423.0,177.0 423.2,176.1 423.5,177.5 423.8,177.5 424.0,173.7 424.2,167.7 424.5,172.9 424.8,161.0 425.0,165.0 425.2,168.0 425.5,171.6 425.8,168.5 426.0,171.7 426.2,177.6 426.5,171.2 426.8,173.9 427.0,177.8 427.2,172.7 427.5,171.8 427.8,183.0 428.0,187.7 428.2,184.1 428.5,187.8 428.8,188.5 429.0,191.6 429.2,191.2 429.5,180.7 429.8,180.1 430.0,186.0 430.2,189.9 430.5,185.0 430.8,178.4 431.0,179.9 431.2,177.0 431.5,177.6 431.8,172.7 432.0,177.9 432.2,180.3 432.5,181.3 432.8,174.4 433.0,167.4 433.2,166.8 433.5,169.6 433.8,164.6 434.0,168.1 434.2,177.8 434.5,171.5 434.8,169.2 435.0,173.5 435.2,175.6 435.5,168.3 435.8,165.6 436.0,165.0 436.2,162.0 436.5,164.5 436.8,164.3 437.0,169.5 437.2,149.0 437.5,164.5 437.8,168.6 438.0,166.2 438.2,168.1 438.5,172.6 438.8,172.2 439.0,169.6 439.2,170.9 439.5,167.4 439.8,162.6 440.0,162.1 440.2,162.8 440.5,168.1 440.8,174.4 441.0,176.4 441.2,182.4 441.5,179.6 441.8,175.3 442.0,172.1 442.2,169.3 442.5,170.1 442.8,178.2 443.0,170.7 443.2,175.0 443.5,175.2 443.8,179.4 444.0,176.0 444.2,179.5 444.5,176.0 444.8,179.1 445.0,168.8 445.2,173.8 445.5,178.4 445.8,170.0 446.0,176.3 446.2,170.4 446.5,176.7 446.8,175.9 447.0,178.4 447.2,178.4 447.5,171.2 447.8,178.7 448.0,181.0 448.2,173.9 448.5,175.5 448.8,175.9 449.0,171.3 449.2,166.7 449.5,173.1 449.8,170.2 450.0,173.4 450.2,176.2 450.5,175.6 450.8,170.5 451.0,173.2 451.2,165.6 451.5,162.1 451.8,174.3 452.0,169.0 452.2,169.3 452.5,162.7 452.8,162.6 453.0,163.9 453.2,152.9 453.5,152.2 453.8,158.2 454.0,164.2 454.2,165.2 454.5,158.2 454.8,162.5 455.0,160.4 455.2,157.8 455.5,160.7 455.8,175.1 456.0,167.7 456.2,173.5 456.5,173.2 456.8,164.1 457.0,161.6 457.2,164.1 457.5,164.5 457.8,168.7 458.0,165.4 458.2,163.5 458.5,171.8 458.8,172.0 459.0,168.1 459.2,169.7 459.5,179.4 459.8,174.2 460.0,166.5 460.2,172.9 460.5,180.6 460.8,180.5 461.0,173.9 461.2,163.8 461.5,172.4 461.8,171.4 462.0,173.7 462.2,172.2 462.5,179.3 462.8,176.9 463.0,173.6 463.2,173.6 463.5,168.0 463.8,170.2 464.0,170.7 464.2,163.6 464.5,163.8 464.8,164.0 465.0,164.2 465.2,164.8 465.5,172.8 465.8,174.5 466.0,167.9 466.2,165.3 466.5,170.0 466.8,170.2 467.0,171.4 467.2,167.0 467.5,166.3 467.8,175.6 468.0,172.7 468.2,172.4 468.5,167.9 468.8,176.5 469.0,173.8 469.2,172.8 469.5,172.9 469.8,172.7 470.0,178.6 470.2,168.4 470.5,172.2 470.8,169.2 471.0,168.0 471.2,166.3 471.5,169.6 471.8,164.3 472.0,164.4 472.2,169.3 472.5,167.7 472.8,167.1 473.0,170.5 473.2,171.5 473.5,170.4 473.8,171.4 474.0,168.1 474.2,173.5 474.5,168.7 474.8,165.1 475.0,168.9 475.2,165.6 475.5,165.8 475.8,166.6 476.0,172.4 476.2,171.1 476.5,170.5 476.8,169.2 477.0,171.6 477.2,169.0 477.5,170.4 477.8,176.7 478.0,172.8 478.2,169.2 478.5,163.6 478.8,160.5 479.0,157.4 479.2,156.5 479.5,155.5 479.8,158.5 480.0,162.7 480.2,159.8 480.5,162.2 480.8,153.5 481.0,168.7 481.2,174.2 481.5,173.2 481.8,172.0 482.0,168.8 482.2,171.0 482.5,163.6 482.8,153.3 483.0,161.3 483.2,154.7 483.5,159.4 483.8,154.7 484.0,152.7 484.2,162.1 484.5,172.0 484.8,167.9 485.0,163.6 485.2,165.2 485.5,161.3 485.8,152.9 486.0,155.9 486.2,153.3 486.5,154.5 486.8,154.9 487.0,159.1 487.2,154.0 487.5,154.2 487.8,159.6 488.0,168.2 488.2,170.9 488.5,170.3 488.8,162.4 489.0,165.7 489.2,165.7 489.5,163.6 489.8,169.8 490.0,164.2 490.2,172.1 490.5,166.3 490.8,162.6 491.0,163.0 491.2,158.3 491.5,159.1 491.8,162.3 492.0,158.8 492.2,159.2 492.5,159.7 492.8,160.2 493.0,167.7 493.2,166.8 493.5,167.6 493.8,170.6 494.0,165.5 494.2,169.7 494.5,168.5 494.8,167.1 495.0,164.6 495.2,165.1 495.5,173.5 495.8,182.3 496.0,178.2 496.2,177.6 496.5,174.3 496.8,168.0 497.0,165.0 497.2,174.9 497.5,169.0 497.8,171.9 498.0,181.1 498.2,176.2 498.5,174.1 498.8,175.1 499.0,172.2 499.2,173.6 499.5,171.2 499.8,177.2 500.0,177.6 500.2,169.4 500.5,163.4 500.8,163.3 501.0,163.5 501.2,163.1 501.5,170.3 501.8,167.7 502.0,167.3 502.2,169.5 502.5,164.3 502.8,167.6 503.0,171.3 503.2,176.6 503.5,171.3"/>
<polyline fill="none" stroke="#0000ff" stroke-width="1" shape-rendering="crispEdges" stroke-linejoin="round" points="45.0,259.5 45.2,261.5 45.5,256.5 45.8,260.3 46.0,258.1 46.2,251.8 46.5,251.6 46.8,256.5 47.0,258.6 47.2,253.8 47.5,257.9 47.8,257.7 48.0,259.6 48.2,260.4 48.5,254.8 48.8,257.3 49.0,254.9 49.2,262.2 49.5,263.6 49.8,261.6 50.0,256.1 50.2,256.7 50.5,257.6 50.8,252.4 51.0,263.4 51.2,262.9 51.5,265.2 51.8,259.4 52.0,265.2 52.2,256.7 52.5,253.9 52.8,257.2 53.0,257.2 53.2,248.3 53.5,248.2 53.8,252.8 54.0,263.4 54.2,265.0 54.5,260.8 54.8,262.8 55.0,255.3 55.2,257.9 55.5,251.0 55.8,252.7 56.0,253.2 56.2,257.9 56.5,255.7 56.8,261.4 57.0,258.5 57.2,261.5 57.5,263.2 57.8,251.6 58.0,253.1 58.2,254.0 58.5,250.6 58.8,253.1 59.0,246.6 59.2,252.3 59.5,255.8 59.8,257.0 60.0,264.6 60.2,264.6 60.5,262.3 60.8,256.0 61.0,257.1 61.2,251.5 61.5,259.1 61.8,254.3 62.0,255.3 62.2,264.4 62.5,264.4 62.8,264.2 63.0,264.4 63.2,263.0 63.5,264.1 63.8,260.9 64.0,254.1 64.2,256.5 64.5,260.5 64.8,256.7 65.0,250.4 65.2,249.2 65.5,245.0 65.8,244.9 66.0,244.9 66.2,255.6 66.5,252.4 66.8,245.3 67.0,252.9 67.2,252.5 67.5,253.4 67.8,254.7 68.0,255.6 68.2,253.3 68.5,258.4 68.8,259.6 69.0,255.2 69.2,254.0 69.5,249.3 69.8,252.4 70.0,256.8 70.2,259.1 70.5,260.5 70.8,257.6 71.0,263.7 71.2,259.7 71.5,257.9 71.8,254.8 72.0,255.0 72.2,253.4 72.5,263.6 72.8,262.4 73.0,250.7 73.2,249.4 73.5,243.8 73.8,251.3 74.0,258.7 74.2,254.3 74.5,256.7 74.8,254.1 75.0,255.4 75.2,261.7 75.5,257.2 75.8,249.1 76.0,253.5 76.2,255.3 76.5,257.1 76.8,260.0 77.0,253.4 77.2,242.8 77.5,250.6 77.8,248.5 78.0,243.2 78.2,241.0 78.5,248.9 78.8,250.0 79.0,251.3 79.2,254.8 79.5,249.5 79.8,243.9 80.0,241.5 80.2,239.9 80.5,240.8 80.8,239.6 81.0,242.5 81.2,242.2 81.5,243.8 81.8,248.3 82.0,254.7 82.2,256.7 82.5,255.8 82.8,253.8 83.0,249.0 83.2,253.1 83.5,256.2 83.8,251.3 84.0,253.4 84.2,249.3 84.5,247.3 84.8,247.7 85.0,245.0 85.2,249.8 85.5,240.6 85.8,238.7 86.0,240.3 86.2,236.5 86.5,241.3 86.8,235.0 87.0,238.2 87.2,234.5 87.5,235.9 87.8,241.5 88.0,254.3 88.2,254.4 88.5,254.3 88.8,254.3 89.0,254.2 89.2,254.1 89.5,249.3 89.8,239.8 90.0,242.1 90.2,248.3 90.5,242.6 90.8,240.4 91.0,238.4 91.2,237.8 91.5,235.8 91.8,231.0 92.0,242.2 92.2,230.6 92.5,230.4 92.8,235.2 93.0,243.4 93.2,241.3 93.5,239.5 93.8,240.3 94.0,238.9 94.2,244.9 94.5,240.4 94.8,234.3 95.0,233.4 95.2,236.4 95.5,245.3 95.8,252.1 96.0,246.2 96.2,234.6 96.5,227.6 96.8,245.4 97.0,240.7 97.2,243.3 97.5,252.1 97.8,244.8 98.0,241.5 98.2,236.6 98.5,229.8 98.8,238.5 99.0,246.1 99.2,230.2 99.5,240.1 99.8,237.8 100.0,239.3 100.2,240.4 100.5,229.9 100.8,230.4 101.0,225.5 101.2,244.3 101.5,252.4 101.8,252.1 102.0,237.9 102.2,246.8 102.5,242.1 102.8,252.5 103.0,252.4 103.2,252.4 103.5,252.4 103.8,240.2 104.0,233.9 104.2,234.3 104.5,228.0 104.8,240.6 105.0,244.5 105.2,241.6 105.5,236.8 105.8,242.0 106.0,251.1 106.2,230.9 106.5,234.8 106.8,233.1 107.0,228.5 107.2,228.7 107.5,232.5 107.8,248.7 108.0,244.9 108.2,238.6 108.5,228.1 108.8,237.2 109.0,231.0 109.2,231.9 109.5,239.1 109.8,238.5 110.0,234.7 110.2,233.8 110.5,241.7 110.8,239.6 111.0,240.3 111.2,242.1 111.5,237.3 111.8,239.4 112.0,236.0 112.2,244.9 112.5,245.7 112.8,228.6 113.0,229.4 113.2,240.4 113.5,237.1 113.8,233.2 114.0,241.9 114.2,231.1 114.5,233.2 114.8,238.6 115.0,244.2 115.2,233.2 115.5,224.6 115.8,240.3 116.0,233.0 116.2,233.6 116.5,250.7 116.8,243.8 117.0,225.3 117.2,249.9 117.5,250.9 117.8,250.0 118.0,251.0 118.2,251.0 118.5,251.1 118.8,251.1 119.0,245.2 119.2,247.1 119.5,250.1 119.8,251.3 120.0,251.3 120.2,247.5 120.5,244.1 120.8,251.4 121.0,251.5 121.2,249.2 121.5,251.6 121.8,251.6 122.0,251.6 122.2,249.5 122.5,244.2 122.8,247.4 123.0,251.8 123.2,241.5 123.5,238.9 123.8,238.6 124.0,245.1 124.2,238.1 124.5,251.7 124.8,250.0 125.0,250.3 125.2,251.6 125.5,251.6 125.8,251.6 126.0,249.6 126.2,249.3 126.5,242.0 126.8,241.9 127.0,242.5 127.2,238.2 127.5,244.5 127.8,246.0 128.0,236.6 128.2,242.3 128.5,238.2 128.8,242.5 129.0,238.8 129.2,238.4 129.5,241.8 129.8,251.3 130.0,240.9 130.2,239.7 130.5,238.9 130.8,245.4 131.0,243.1 131.2,244.8 131.5,250.6 131.8,251.5 132.0,246.0 132.2,242.3 132.5,240.7 132.8,241.8 133.0,237.2 133.2,238.4 133.5,242.6 133.8,239.6 134.0,237.6 134.2,240.4 134.5,245.1 134.8,236.2 135.0,232.3 135.2,242.4 135.5,241.5 135.8,234.5 136.0,237.0 136.2,247.2 136.5,240.7 136.8,234.3 137.0,234.3 137.2,245.5 137.5,238.9 137.8,241.8 138.0,246.7 138.2,247.4 138.5,241.7 138.8,244.2 139.0,242.7 139.2,245.8 139.5,245.0 139.8,242.8 140.0,228.6 140.2,235.3 140.5,234.4 140.8,222.2 141.0,224.9 141.2,230.2 141.5,230.7 141.8,220.8 142.0,220.4 142.2,220.1 142.5,219.7 142.8,219.6 143.0,219.6 143.2,227.5 143.5,233.8 143.8,233.2 144.0,232.5 144.2,240.2 144.5,241.2 144.8,235.3 145.0,236.8 145.2,240.7 145.5,247.0 145.8,245.7 146.0,235.5 146.2,231.0 146.5,233.4 146.8,235.6 147.0,242.4 147.2,225.0 147.5,222.5 147.8,218.6 148.0,231.1 148.2,237.6 148.5,238.6 148.8,242.8 149.0,235.1 149.2,238.4 149.5,237.0 149.8,236.3 150.0,234.2 150.2,241.1 150.5,246.5 150.8,230.7 151.0,227.4 151.2,230.0 151.5,235.4 151.8,222.0 152.0,218.5 152.2,221.1 152.5,238.8 152.8,230.1 153.0,228.4 153.2,230.2 153.5,230.9 153.8,233.4 154.0,233.8 154.2,233.0 154.5,236.1 154.8,238.1 155.0,240.3 155.2,241.9 155.5,231.7 155.8,235.0 156.0,237.0 156.2,243.0 156.5,246.2 156.8,251.4 157.0,243.4 157.2,241.1 157.5,242.1 157.8,236.8 158.0,235.8 158.2,234.5 158.5,233.0 158.8,250.8 159.0,246.3 159.2,252.2 159.5,243.1 159.8,243.7 160.0,238.0 160.2,240.9 160.5,251.6 160.8,252.1 161.0,252.1 161.2,252.1 161.5,249.8 161.8,248.9 162.0,252.1 162.2,239.0 162.5,237.4 162.8,232.0 163.0,241.4 163.2,232.9 163.5,240.9 163.8,233.2 164.0,228.8 164.2,242.5 164.5,248.3 164.8,239.8 165.0,228.9 165.2,227.6 165.5,235.4 165.8,237.0 166.0,232.3 166.2,238.6 166.5,247.9 166.8,238.2 167.0,238.5 167.2,234.2 167.5,243.2 167.8,243.0 168.0,238.0 168.2,228.6 168.5,237.1 168.8,236.5 169.0,238.7 169.2,238.2 169.5,241.5 169.8,230.3 170.0,228.7 170.2,234.9 170.5,248.2 170.8,247.5 171.0,244.5 171.2,239.1 171.5,235.4 171.8,235.8 172.0,232.4 172.2,236.0 172.5,237.6 172.8,251.1 173.0,246.8 173.2,251.5 173.5,245.0 173.8,249.4 174.0,252.0 174.2,250.6 174.5,239.9 174.8,246.8 175.0,245.0 175.2,241.9 175.5,244.3 175.8,244.9 176.0,251.2 176.2,250.2 176.5,243.3 176.8,235.5 177.0,228.0 177.2,228.0 177.5,237.3 177.8,229.7 178.0,234.1 178.2,244.1 178.5,246.7 178.8,251.9 179.0,251.9 179.2,251.8 179.5,249.2 179.8,241.9 180.0,251.8 180.2,250.9 180.5,248.2 180.8,243.1 181.0,251.3 181.2,250.6 181.5,250.3 181.8,244.3 182.0,244.2 182.2,241.7 182.5,241.7 182.8,243.7 183.0,241.2 183.2,238.1 183.5,243.6 183.8,239.1 184.0,246.8 184.2,251.4 184.5,243.4 184.8,250.3 185.0,244.7 185.2,249.5 185.5,244.9 185.8,247.2 186.0,241.2 186.2,244.2 186.5,243.7 186.8,249.7 187.0,249.5 187.2,243.1 187.5,243.7 187.8,239.7 188.0,240.7 188.2,247.2 188.5,248.2 188.8,247.9 189.0,241.5 189.2,241.0 189.5,247.3 189.8,245.1 190.0,236.2 190.2,230.6 190.5,229.0 190.8,236.0 191.0,234.9 191.2,232.2 191.5,235.4 191.8,240.2 192.0,238.1 192.2,233.6 192.5,235.3 192.8,239.3 193.0,230.4 193.2,226.5 193.5,238.7 193.8,239.8 194.0,240.2 194.2,232.2 194.5,228.9 194.8,230.1 195.0,238.1 195.2,237.8 195.5,229.5 195.8,239.0 196.0,244.5 196.2,244.5 196.5,237.4 196.8,233.9 197.0,233.3 197.2,234.8 197.5,243.6 197.8,234.6 198.0,231.6 198.2,232.9 198.5,231.1 198.8,230.2 199.0,226.1 199.2,228.7 199.5,229.3 199.8,232.1 200.0,237.4 200.2,235.2 200.5,234.4 200.8,235.7 201.0,233.1 201.2,234.5 201.5,226.2 201.8,225.2 202.0,230.5 202.2,232.7 202.5,236.9 202.8,229.6 203.0,228.5 203.2,229.9 203.5,230.7 203.8,230.6 204.0,238.2 204.2,234.3 204.5,232.4 204.8,235.0 205.0,236.5 205.2,235.9 205.5,242.0 205.8,241.8 206.0,237.5 206.2,231.3 206.5,237.4 206.8,232.8 207.0,234.4 207.2,231.4 207.5,241.9 207.8,242.2 208.0,230.9 208.2,233.2 208.5,226.7 208.8,226.5 209.0,233.1 209.2,227.1 209.5,231.3 209.8,232.0 210.0,236.7 210.2,231.2 210.5,235.6 210.8,233.6 211.0,239.5 211.2,238.3 211.5,240.8 211.8,245.6 212.0,245.8 212.2,243.8 212.5,244.9 212.8,241.9 213.0,242.3 213.2,246.9 213.5,240.3 213.8,233.0 214.0,237.2 214.2,234.4 214.5,242.2 214.8,245.4 215.0,246.4 215.2,243.6 215.5,239.6 215.8,234.8 216.0,233.5 216.2,235.6 216.5,232.1 216.8,240.4 217.0,243.8 217.2,235.8 217.5,230.8 217.8,235.5 218.0,231.3 218.2,231.6 218.5,231.8 218.8,232.1 219.0,240.3 219.2,246.2 219.5,253.0 219.8,253.4 220.0,253.7 220.2,251.6 220.5,247.8 220.8,243.0 221.0,243.6 221.2,241.8 221.5,244.0 221.8,254.0 222.0,246.7 222.2,249.9 222.5,242.6 222.8,236.0 223.0,244.6 223.2,243.8 223.5,244.4 223.8,252.6 224.0,242.3 224.2,243.6 224.5,252.3 224.8,243.8 225.0,245.7 225.2,250.8 225.5,254.1 225.8,254.9 226.0,256.1 226.2,255.8 226.5,256.3 226.8,255.1 227.0,246.4 227.2,246.8 227.5,245.7 227.8,252.4 228.0,253.1 228.2,253.3 228.5,251.4 228.8,252.9 229.0,246.6 229.2,247.3 229.5,241.9 229.8,240.3 230.0,234.5 230.2,250.9 230.5,251.6 230.8,242.6 231.0,240.1 231.2,242.8 231.5,239.6 231.8,244.7 232.0,246.1 232.2,251.3 232.5,230.1 232.8,238.2 233.0,240.3 233.2,246.2 233.5,240.3 233.8,235.3 234.0,229.5 234.2,235.6 234.5,237.5 234.8,227.1 235.0,227.2 235.2,231.0 235.5,226.1 235.8,228.1 236.0,231.0 236.2,230.1 236.5,226.3 236.8,235.4 237.0,238.0 237.2,240.2 237.5,236.1 237.8,238.0 238.0,234.0 238.2,234.9 238.5,237.0 238.8,241.1 239.0,236.7 239.2,232.7 239.5,242.3 239.8,232.7 240.0,236.0 240.2,236.3 240.5,241.2 240.8,237.8 241.0,232.1 241.2,235.1 241.5,228.5 241.8,227.5 242.0,230.4 242.2,234.0 242.5,227.7 242.8,238.7 243.0,238.5 243.2,245.8 243.5,249.7 243.8,246.2 244.0,241.4 244.2,232.6 244.5,240.5 244.8,248.7 245.0,246.3 245.2,244.2 245.5,237.5 245.8,232.5 246.0,234.4 246.2,243.0 246.5,240.4 246.8,245.1 247.0,245.5 247.2,243.0 247.5,237.4 247.8,236.4 248.0,231.2 248.2,239.1 248.5,242.4 248.8,236.5 249.0,234.3 249.2,230.0 249.5,234.3 249.8,239.9 250.0,235.5 250.2,235.2 250.5,239.4 250.8,231.2 251.0,236.1 251.2,246.4 251.5,251.4 251.8,248.7 252.0,246.1 252.2,248.6 252.5,249.9 252.8,251.5 253.0,251.4 253.2,249.8 253.5,248.7 253.8,250.9 254.0,245.6 254.2,250.6 254.5,248.9 254.8,248.0 255.0,242.2 255.2,242.1 255.5,238.2 255.8,232.4 256.0,234.4 256.2,232.6 256.5,235.6 256.8,232.8 257.0,234.5 257.2,235.6 257.5,233.0 257.8,235.0 258.0,235.2 258.2,233.3 258.5,240.2 258.8,242.6 259.0,243.6 259.2,243.1 259.5,245.5 259.8,242.4 260.0,244.6 260.2,246.9 260.5,243.4 260.8,243.0 261.0,243.2 261.2,237.6 261.5,240.3 261.8,240.7 262.0,245.5 262.2,244.8 262.5,240.7 262.8,241.6 263.0,239.9 263.2,233.8 263.5,234.8 263.8,233.8 264.0,240.4 264.2,242.1 264.5,245.2 264.8,245.3 265.0,243.4 265.2,245.4 265.5,238.4 265.8,242.6 266.0,241.9 266.2,234.4 266.5,236.4 266.8,240.6 267.0,239.2 267.2,245.5 267.5,248.8 267.8,244.4 268.0,240.6 268.2,240.3 268.5,239.1 268.8,243.0 269.0,247.0 269.2,248.0 269.5,248.7 269.8,246.3 270.0,244.4 270.2,240.9 270.5,249.3 270.8,249.3 271.0,249.3 271.2,245.1 271.5,237.8 271.8,236.2 272.0,236.4 272.2,236.9 272.5,241.3 272.8,239.9 273.0,243.3 273.2,244.9 273.5,246.8 273.8,244.6 274.0,247.0 274.2,245.9 274.5,245.3 274.8,243.4 275.0,242.3 275.2,243.1 275.5,245.6 275.8,241.1 276.0,240.0 276.2,240.8 276.5,246.1 276.8,244.6 277.0,246.4 277.2,248.9 277.5,246.5 277.8,249.5 278.0,243.9 278.2,236.9 278.5,233.3 278.8,232.3 279.0,232.8 279.2,234.5 279.5,238.5 279.8,237.3 280.0,236.1 280.2,240.6 280.5,240.0 280.8,241.4 281.0,239.3 281.2,233.9 281.5,236.1 281.8,237.2 282.0,240.3 282.2,240.5 282.5,236.8 282.8,245.2 283.0,237.8 283.2,231.3 283.5,231.2 283.8,231.5 284.0,237.0 284.2,235.5 284.5,237.2 284.8,239.4 285.0,243.1 285.2,234.3 285.5,237.6 285.8,232.6 286.0,240.6 286.2,236.8 286.5,234.7 286.8,239.1 287.0,239.3 287.2,239.1 287.5,242.9 287.8,239.5 288.0,236.8 288.2,242.9 288.5,239.2 288.8,240.5 289.0,234.4 289.2,236.3 289.5,236.1 289.8,239.3 290.0,249.6 290.2,237.5 290.5,233.6 290.8,234.2 291.0,237.0 291.2,230.9 291.5,233.9 291.8,231.9 292.0,235.1 292.2,232.2 292.5,248.7 292.8,246.7 293.0,247.9 293.2,233.6 293.5,231.8 293.8,233.8 294.0,244.5 294.2,238.7 294.5,241.0 294.8,236.2 295.0,236.8 295.2,230.3 295.5,230.3 295.8,230.2 296.0,234.2 296.2,240.4 296.5,239.2 296.8,232.8 297.0,240.9 297.2,238.6 297.5,234.3 297.8,234.1 298.0,234.6 298.2,245.1 298.5,243.0 298.8,239.0 299.0,236.8 299.2,229.6 299.5,239.4 299.8,234.3 300.0,236.6 300.2,232.4 300.5,230.6 300.8,229.2 301.0,229.1 301.2,243.7 301.5,249.0 301.8,249.0 302.0,249.0 302.2,244.0 302.5,236.2 302.8,243.2 303.0,238.1 303.2,248.9 303.5,248.8 303.8,242.1 304.0,238.9 304.2,236.9 304.5,241.5 304.8,238.4 305.0,238.3 305.2,230.2 305.5,241.7 305.8,245.2 306.0,243.2 306.2,233.1 306.5,235.8 306.8,248.3 307.0,248.3 307.2,248.2 307.5,236.0 307.8,235.2 308.0,235.0 308.2,241.7 308.5,235.4 308.8,240.7 309.0,245.3 309.2,243.2 309.5,240.5 309.8,241.9 310.0,235.3 310.2,228.4 310.5,228.4 310.8,228.9 311.0,230.4 311.2,232.2 311.5,231.2 311.8,232.8 312.0,243.5 312.2,239.7 312.5,234.3 312.8,229.3 313.0,228.5 313.2,233.4 313.5,233.5 313.8,232.7 314.0,233.1 314.2,228.5 314.5,228.5 314.8,228.5 315.0,229.0 315.2,232.5 315.5,237.9 315.8,233.7 316.0,235.8 316.2,237.5 316.5,233.4 316.8,236.6 317.0,241.1 317.2,229.8 317.5,233.5 317.8,235.8 318.0,236.8 318.2,226.8 318.5,234.8 318.8,233.3 319.0,228.2 319.2,222.5 319.5,226.8 319.8,227.4 320.0,221.5 320.2,234.6 320.5,225.5 320.8,231.8 321.0,225.1 321.2,225.8 321.5,232.0 321.8,229.8 322.0,233.8 322.2,232.9 322.5,242.9 322.8,244.0 323.0,219.0 323.2,234.1 323.5,230.7 323.8,232.9 324.0,244.6 324.2,245.8 324.5,245.8 324.8,245.9 325.0,245.1 325.2,242.9 325.5,240.5 325.8,236.8 326.0,239.6 326.2,246.4 326.5,246.4 326.8,246.5 327.0,246.6 327.2,246.1 327.5,246.7 327.8,241.4 328.0,240.9 328.2,247.0 328.5,247.0 328.8,247.1 329.0,243.5 329.2,235.2 329.5,240.3 329.8,237.3 330.0,234.1 330.2,237.0 330.5,237.6 330.8,231.4 331.0,239.8 331.2,231.6 331.5,229.8 331.8,235.4 332.0,235.3 332.2,229.9 332.5,237.1 332.8,242.2 333.0,240.2 333.2,239.5 333.5,240.4 333.8,244.1 334.0,241.8 334.2,235.4 334.5,236.4 334.8,234.9 335.0,230.4 335.2,230.4 335.5,230.5 335.8,232.5 336.0,241.2 336.2,243.3 336.5,250.2 336.8,250.3 337.0,249.5 337.2,241.6 337.5,245.7 337.8,245.8 338.0,235.4 338.2,233.8 338.5,239.6 338.8,237.6 339.0,241.0 339.2,242.2 339.5,251.5 339.8,240.9 340.0,240.1 340.2,233.3 340.5,231.3 340.8,245.3 341.0,248.9 341.2,249.5 341.5,246.4 341.8,244.8 342.0,251.7 342.2,244.4 342.5,250.4 342.8,251.7 343.0,244.3 343.2,244.6 343.5,239.7 343.8,240.7 344.0,245.8 344.2,246.0 344.5,251.2 344.8,251.7 345.0,236.3 345.2,242.7 345.5,235.5 345.8,231.3 346.0,231.3 346.2,231.3 346.5,244.9 346.8,249.4 347.0,251.4 347.2,248.4 347.5,251.0 347.8,244.3 348.0,249.5 348.2,244.4 348.5,242.7 348.8,244.0 349.0,239.4 349.2,251.7 349.5,251.7 349.8,246.6 350.0,239.9 350.2,237.0 350.5,238.4 350.8,242.5 351.0,234.1 351.2,234.2 351.5,246.7 351.8,246.6 352.0,244.8 352.2,241.5 352.5,240.2 352.8,241.3 353.0,248.9 353.2,251.1 353.5,246.2 353.8,239.6 354.0,242.8 354.2,238.9 354.5,245.0 354.8,249.7 355.0,242.4 355.2,230.0 355.5,229.6 355.8,230.3 356.0,229.4 356.2,233.2 356.5,236.7 356.8,238.0 357.0,237.7 357.2,234.4 357.5,239.5 357.8,228.9 358.0,234.8 358.2,249.4 358.5,250.1 358.8,248.3 359.0,243.5 359.2,244.2 359.5,241.6 359.8,249.8 360.0,243.0 360.2,240.5 360.5,233.1 360.8,238.4 361.0,229.5 361.2,237.4 361.5,240.9 361.8,232.8 362.0,237.1 362.2,236.1 362.5,233.8 362.8,227.8 363.0,227.7 363.2,227.7 363.5,227.6 363.8,227.6 364.0,227.5 364.2,240.6 364.5,241.8 364.8,247.0 365.0,239.9 365.2,248.1 365.5,242.0 365.8,246.2 366.0,245.2 366.2,246.8 366.5,237.3 366.8,232.4 367.0,239.9 367.2,242.0 367.5,237.6 367.8,241.4 368.0,241.1 368.2,237.3 368.5,249.2 368.8,233.3 369.0,234.0 369.2,240.7 369.5,242.6 369.8,249.9 370.0,250.0 370.2,249.9 370.5,243.3 370.8,250.2 371.0,244.1 371.2,241.2 371.5,239.3 371.8,243.2 372.0,239.5 372.2,239.9 372.5,237.9 372.8,231.9 373.0,232.1 373.2,245.0 373.5,242.0 373.8,242.9 374.0,251.2 374.2,246.9 374.5,248.7 374.8,251.4 375.0,244.4 375.2,251.1 375.5,251.5 375.8,243.3 376.0,243.4 376.2,237.4 376.5,251.5 376.8,251.5 377.0,251.5 377.2,246.4 377.5,247.2 377.8,240.3 378.0,240.0 378.2,235.8 378.5,237.0 378.8,240.9 379.0,243.1 379.2,246.3 379.5,242.7 379.8,246.8 380.0,245.8 380.2,246.4 380.5,251.4 380.8,249.0 381.0,242.4 381.2,245.7 381.5,240.0 381.8,241.4 382.0,241.7 382.2,234.3 382.5,234.3 382.8,234.4 383.0,236.2 383.2,242.6 383.5,243.1 383.8,251.4 384.0,251.4 384.2,242.9 384.5,245.8 384.8,240.4 385.0,237.8 385.2,238.4 385.5,238.9 385.8,241.8 386.0,245.6 386.2,249.6 386.5,244.8 386.8,244.6 387.0,249.3 387.2,242.2 387.5,246.9 387.8,248.8 388.0,245.2 388.2,249.8 388.5,249.3 388.8,250.3 389.0,251.4 389.2,250.3 389.5,242.8 389.8,240.9 390.0,236.8 390.2,243.5 390.5,241.7 390.8,240.2 391.0,238.4 391.2,244.9 391.5,245.6 391.8,248.1 392.0,247.3 392.2,242.5 392.5,238.6 392.8,245.4 393.0,243.3 393.2,246.2 393.5,240.0 393.8,239.7 394.0,238.3 394.2,236.1 394.5,241.0 394.8,245.5 395.0,243.4 395.2,251.4 395.5,249.0 395.8,239.7 396.0,243.1 396.2,237.3 396.5,237.5 396.8,240.6 397.0,246.4 397.2,247.6 397.5,242.8 397.8,248.5 398.0,247.6 398.2,251.4 398.5,251.4 398.8,250.4 399.0,244.6 399.2,247.1 399.5,245.9 399.8,244.5 400.0,244.6 400.2,240.2 400.5,236.6 400.8,236.5 401.0,239.4 401.2,239.2 401.5,243.3 401.8,246.4 402.0,247.0 402.2,241.1 402.5,235.2 402.8,234.6 403.0,234.6 403.2,239.1 403.5,243.9 403.8,236.2 404.0,236.6 404.2,238.1 404.5,235.8 404.8,236.9 405.0,235.1 405.2,235.8 405.5,238.2 405.8,241.2 406.0,238.1 406.2,242.9 406.5,239.0 406.8,238.7 407.0,239.1 407.2,236.2 407.5,240.4 407.8,238.3 408.0,235.6 408.2,245.4 408.5,243.2 408.8,241.1 409.0,234.6 409.2,234.6 409.5,244.1 409.8,241.9 410.0,240.8 410.2,244.8 410.5,247.8 410.8,251.1 411.0,251.2 411.2,247.1 411.5,242.4 411.8,245.0 412.0,246.5 412.2,246.9 412.5,241.7 412.8,238.9 413.0,246.1 413.2,241.9 413.5,243.5 413.8,241.6 414.0,232.1 414.2,236.3 414.5,231.2 414.8,240.5 415.0,236.7 415.2,232.7 415.5,232.1 415.8,232.2 416.0,230.2 416.2,229.6 416.5,236.3 416.8,236.1 417.0,238.9 417.2,237.4 417.5,239.1 417.8,233.8 418.0,241.4 418.2,234.1 418.5,225.1 418.8,224.1 419.0,224.1 419.2,224.0 419.5,235.3 419.8,228.3 420.0,233.5 420.2,228.6 420.5,236.9 420.8,238.3 421.0,243.0 421.2,239.9 421.5,241.4 421.8,242.7 422.0,237.1 422.2,235.1 422.5,231.1 422.8,227.7 423.0,226.4 423.2,223.6 423.5,230.3 423.8,230.5 424.0,226.6 424.2,228.8 424.5,231.5 424.8,230.0 425.0,236.0 425.2,233.6 425.5,234.0 425.8,242.9 426.0,237.7 426.2,236.2 426.5,236.5 426.8,229.2 427.0,228.6 427.2,234.2 427.5,241.9 427.8,235.7 428.0,237.3 428.2,234.8 428.5,232.4 428.8,227.2 429.0,231.6 429.2,225.8 429.5,229.9 429.8,232.7 430.0,234.9 430.2,233.9 430.5,228.2 430.8,226.8 431.0,228.6 431.2,234.1 431.5,236.2 431.8,232.4 432.0,239.0 432.2,248.6 432.5,244.9 432.8,238.5 433.0,237.4 433.2,248.1 433.5,241.8 433.8,239.6 434.0,239.9 434.2,239.7 434.5,244.9 434.8,242.4 435.0,236.8 435.2,240.9 435.5,243.0 435.8,255.7 436.0,257.8 436.2,257.7 436.5,257.6 436.8,256.9 437.0,256.0 437.2,252.7 437.5,241.7 437.8,246.5 438.0,247.6 438.2,256.0 438.5,256.6 438.8,251.4 439.0,251.5 439.2,243.9 439.5,250.8 439.8,248.2 440.0,240.6 440.2,236.4 440.5,240.5 440.8,245.4 441.0,240.9 441.2,254.0 441.5,248.1 441.8,255.0 442.0,248.1 442.2,248.3 442.5,244.6 442.8,254.5 443.0,254.4 443.2,253.4 443.5,252.3 443.8,250.5 444.0,249.5 444.2,241.7 444.5,244.9 444.8,251.0 445.0,245.7 445.2,239.7 445.5,236.6 445.8,236.6 446.0,242.4 446.2,245.3 446.5,239.2 446.8,247.6 447.0,245.1 447.2,247.9 447.5,245.3 447.8,240.5 448.0,242.7 448.2,241.7 448.5,244.0 448.8,244.6 449.0,239.3 449.2,243.4 449.5,242.0 449.8,245.3 450.0,249.3 450.2,250.0 450.5,252.5 450.8,254.0 451.0,252.0 451.2,246.6 451.5,241.3 451.8,247.4 452.0,242.5 452.2,246.4 452.5,252.7 452.8,246.1 453.0,252.5 453.2,245.3 453.5,248.8 453.8,247.7 454.0,239.6 454.2,241.3 454.5,250.0 454.8,247.5 455.0,240.9 455.2,247.0 455.5,251.1 455.8,243.8 456.0,245.1 456.2,238.8 456.5,236.4 456.8,241.6 457.0,246.8 457.2,254.4 457.5,255.4 457.8,251.2 458.0,255.2 458.2,247.5 458.5,244.9 458.8,246.0 459.0,243.7 459.2,243.7 459.5,240.1 459.8,247.4 460.0,255.3 460.2,257.2 460.5,257.4 460.8,257.5 461.0,257.6 461.2,250.0 461.5,249.8 461.8,240.3 462.0,248.4 462.2,248.6 462.5,246.8 462.8,244.0 463.0,240.7 463.2,241.6 463.5,241.0 463.8,243.9 464.0,237.3 464.2,237.3 464.5,247.0 464.8,235.8 465.0,236.1 465.2,233.9 465.5,237.7 465.8,242.8 466.0,240.7 466.2,237.8 466.5,238.2 466.8,244.0 467.0,239.7 467.2,239.3 467.5,245.5 467.8,239.4 468.0,234.2 468.2,240.4 468.5,247.2 468.8,249.1 469.0,251.5 469.2,247.5 469.5,242.9 469.8,244.6 470.0,233.5 470.2,234.0 470.5,246.6 470.8,251.1 471.0,243.1 471.2,251.5 471.5,251.5 471.8,251.5 472.0,246.7 472.2,248.7 472.5,251.5 472.8,250.1 473.0,243.7 473.2,245.9 473.5,246.8 473.8,238.2 474.0,233.5 474.2,233.5 474.5,239.0 474.8,234.7 475.0,236.2 475.2,239.6 475.5,235.8 475.8,233.5 476.0,233.5 476.2,234.3 476.5,233.5 476.8,244.4 477.0,246.0 477.2,249.5 477.5,242.1 477.8,237.2 478.0,233.5 478.2,233.5 478.5,238.3 478.8,245.0 479.0,249.2 479.2,250.8 479.5,237.7 479.8,237.1 480.0,240.6 480.2,244.6 480.5,242.8 480.8,244.2 481.0,243.0 481.2,241.7 481.5,244.4 481.8,239.6 482.0,237.6 482.2,240.7 482.5,242.4 482.8,242.6 483.0,246.4 483.2,242.4 483.5,243.5 483.8,248.3 484.0,242.8 484.2,240.8 484.5,247.4 484.8,244.0 485.0,246.6 485.2,241.1 485.5,238.3 485.8,233.8 486.0,233.5 486.2,239.9 486.5,240.2 486.8,237.8 487.0,243.7 487.2,244.2 487.5,245.6 487.8,245.0 488.0,247.8 488.2,239.2 488.5,233.5 488.8,234.4 489.0,237.7 489.2,239.4 489.5,237.2 489.8,241.2 490.0,243.0 490.2,242.3 490.5,241.7 490.8,247.8 491.0,244.6 491.2,237.8 491.5,234.1 491.8,241.6 492.0,240.6 492.2,242.5 492.5,244.3 492.8,243.5 493.0,239.3 493.2,239.7 493.5,244.0 493.8,238.5 494.0,239.9 494.2,241.0 494.5,234.4 494.8,235.3 495.0,239.9 495.2,241.0 495.5,236.4 495.8,246.3 496.0,241.2 496.2,246.7 496.5,248.7 496.8,246.9 497.0,254.4 497.2,255.0 497.5,254.8 497.8,254.7 498.0,254.6 498.2,251.4 498.5,239.2 498.8,245.4 499.0,239.2 499.2,230.0 499.5,231.7 499.8,233.0 500.0,230.1 500.2,237.1 500.5,240.0 500.8,247.1 501.0,242.9 501.2,240.5 501.5,242.6 501.8,247.7 502.0,246.5 502.2,252.2 502.5,247.7 502.8,243.7 503.0,239.1 503.2,235.2 503.5,230.5"/>
<polyline fill="none" stroke="#ffff00" stroke-width="1" shape-rendering="crispEdges" stroke-linejoin="round" points="45.0,270.5 45.2,268.4 45.5,278.5 45.8,274.4 46.0,272.4 46.2,277.1 46.5,269.4 46.8,265.1 47.0,265.9 47.2,263.6 47.5,257.5 47.8,258.4 48.0,257.9 48.2,262.5 48.5,253.5 48.8,252.4 49.0,261.6 49.2,271.5 49.5,259.2 49.8,263.0 50.0,256.1 50.2,252.1 50.5,249.2 50.8,249.7 51.0,258.3 51.2,262.2 51.5,260.7 51.8,256.9 52.0,256.6 52.2,255.5 52.5,260.3 52.8,254.3 53.0,254.2 53.2,253.4 53.5,253.0 53.8,254.6 54.0,255.2 54.2,263.2 54.5,258.6 54.8,265.6 55.0,259.1 55.2,253.3 55.5,253.6 55.8,255.7 56.0,256.5 56.2,264.1 56.5,266.1 56.8,266.1 57.0,259.4 57.2,256.7 57.5,265.2 57.8,262.7 58.0,251.0 58.2,247.7 58.5,246.4 58.8,256.9 59.0,255.6 59.2,267.7 59.5,267.8 59.8,265.2 60.0,259.1 60.2,264.2 60.5,259.8 60.8,253.2 61.0,257.9 61.2,257.4 61.5,264.6 61.8,261.3 62.0,244.1 62.2,252.0 62.5,244.4 62.8,256.9 63.0,268.3 63.2,261.8 63.5,253.1 63.8,246.1 64.0,255.5 64.2,255.1 64.5,252.5 64.8,253.0 65.0,267.5 65.2,266.3 65.5,267.9 65.8,269.2 66.0,270.0 66.2,270.0 66.5,263.6 66.8,260.4 67.0,255.1 67.2,251.9 67.5,261.0 67.8,257.0 68.0,257.0 68.2,253.3 68.5,251.6 68.8,258.6 69.0,255.9 69.2,253.9 69.5,258.4 69.8,261.3 70.0,264.9 70.2,263.7 70.5,251.6 70.8,257.7 71.0,260.9 71.2,265.9 71.5,258.5 71.8,269.9 72.0,260.9 72.2,264.2 72.5,262.5 72.8,258.4 73.0,263.1 73.2,260.0 73.5,247.5 73.8,247.5 74.0,251.8 74.2,266.9 74.5,255.7 74.8,256.7 75.0,265.6 75.2,266.6 75.5,261.8 75.8,252.9 76.0,247.9 76.2,248.0 76.5,248.4 76.8,248.1 77.0,248.1 77.2,248.1 77.5,248.7 77.8,248.1 78.0,249.5 78.2,248.1 78.5,256.9 78.8,266.6 79.0,269.5 79.2,269.5 79.5,269.4 79.8,269.3 80.0,269.3 80.2,269.2 80.5,269.2 80.8,268.1 81.0,255.1 81.2,261.0 81.5,259.2 81.8,258.1 82.0,252.5 82.2,246.3 82.5,258.3 82.8,260.6 83.0,252.8 83.2,256.4 83.5,258.3 83.8,260.8 84.0,268.5 84.2,266.8 84.5,255.2 84.8,255.7 85.0,251.7 85.2,256.5 85.5,257.5 85.8,259.0 86.0,254.2 86.2,257.2 86.5,253.3 86.8,257.2 87.0,254.5 87.2,247.5 87.5,253.2 87.8,249.2 88.0,260.5 88.2,261.3 88.5,262.0 88.8,260.0 89.0,257.6 89.2,241.2 89.5,253.4 89.8,248.1 90.0,256.5 90.2,251.4 90.5,251.5 90.8,251.0 91.0,245.3 91.2,247.4 91.5,253.1 91.8,250.9 92.0,243.9 92.2,244.0 92.5,249.5 92.8,259.0 93.0,263.1 93.2,262.2 93.5,253.3 93.8,259.9 94.0,258.5 94.2,255.9 94.5,261.7 94.8,263.6 95.0,264.0 95.2,253.7 95.5,250.6 95.8,243.2 96.0,247.9 96.2,251.0 96.5,258.8 96.8,259.2 97.0,255.9 97.2,268.8 97.5,258.4 97.8,249.3 98.0,248.1 98.2,254.4 98.5,253.1 98.8,251.7 99.0,246.5 99.2,259.4 99.5,254.7 99.8,248.9 100.0,251.1 100.2,248.3 100.5,250.1 100.8,261.0 101.0,257.0 101.2,257.0 101.5,255.0 101.8,254.8 102.0,260.9 102.2,263.2 102.5,259.3 102.8,253.3 103.0,254.3 103.2,261.2 103.5,260.4 103.8,259.2 104.0,247.4 104.2,258.3 104.5,248.8 104.8,246.3 105.0,247.0 105.2,251.9 105.5,255.3 105.8,251.8 106.0,252.8 106.2,251.3 106.5,246.6 106.8,246.6 107.0,246.7 107.2,255.3 107.5,256.7 107.8,266.5 108.0,271.0 108.2,275.8 108.5,279.5 108.8,279.9 109.0,274.0 109.2,280.7 109.5,268.1 109.8,266.6 110.0,279.0 110.2,267.7 110.5,272.5 110.8,262.5 111.0,258.3 111.2,264.6 111.5,269.9 111.8,277.1 112.0,271.4 112.2,270.6 112.5,272.5 112.8,272.4 113.0,258.9 113.2,255.7 113.5,268.5 113.8,257.0 114.0,263.1 114.2,259.4 114.5,266.9 114.8,259.4 115.0,260.2 115.2,247.8 115.5,251.6 115.8,262.4 116.0,251.7 116.2,263.4 116.5,257.8 116.8,258.9 117.0,247.6 117.2,255.4 117.5,251.4 117.8,251.2 118.0,247.6 118.2,247.5 118.5,259.0 118.8,256.4 119.0,265.5 119.2,263.2 119.5,265.8 119.8,260.9 120.0,265.1 120.2,278.3 120.5,278.0 120.8,277.7 121.0,269.0 121.2,274.1 121.5,276.7 121.8,260.3 122.0,250.0 122.2,269.5 122.5,269.5 122.8,267.1 123.0,268.7 123.2,273.5 123.5,274.2 123.8,267.4 124.0,273.6 124.2,272.1 124.5,261.1 124.8,256.2 125.0,255.9 125.2,254.0 125.5,253.9 125.8,257.4 126.0,243.9 126.2,243.7 126.5,250.5 126.8,256.5 127.0,251.7 127.2,249.0 127.5,259.2 127.8,256.2 128.0,252.3 128.2,266.0 128.5,259.6 128.8,262.5 129.0,259.4 129.2,257.9 129.5,250.2 129.8,245.9 130.0,257.0 130.2,248.1 130.5,251.7 130.8,244.0 131.0,245.4 131.2,247.5 131.5,239.2 131.8,250.6 132.0,249.6 132.2,258.5 132.5,249.5 132.8,256.2 133.0,264.4 133.2,264.2 133.5,255.1 133.8,256.6 134.0,255.1 134.2,251.6 134.5,249.9 134.8,245.5 135.0,249.5 135.2,246.4 135.5,241.0 135.8,249.0 136.0,247.4 136.2,261.4 136.5,257.5 136.8,248.7 137.0,244.1 137.2,247.5 137.5,242.1 137.8,235.0 138.0,250.7 138.2,241.0 138.5,253.6 138.8,252.5 139.0,243.7 139.2,256.4 139.5,252.1 139.8,244.2 140.0,246.2 140.2,255.4 140.5,257.5 140.8,259.8 141.0,261.5 141.2,261.6 141.5,260.2 141.8,255.1 142.0,244.3 142.2,245.5 142.5,257.0 142.8,244.3 143.0,254.8 143.2,255.1 143.5,248.3 143.8,249.9 144.0,261.4 144.2,254.7 144.5,258.7 144.8,263.5 145.0,254.3 145.2,257.8 145.5,259.5 145.8,254.6 146.0,258.5 146.2,254.8 146.5,251.1 146.8,244.8 147.0,250.7 147.2,249.6 147.5,248.2 147.8,243.7 148.0,243.1 148.2,243.2 148.5,249.9 148.8,246.9 149.0,258.5 149.2,259.8 149.5,259.1 149.8,250.7 150.0,263.9 150.2,252.4 150.5,256.6 150.8,266.1 151.0,261.2 151.2,255.3 151.5,255.3 151.8,260.7 152.0,266.7 152.2,266.3 152.5,256.5 152.8,252.4 153.0,254.7 153.2,247.9 153.5,249.4 153.8,264.2 154.0,255.4 154.2,262.0 154.5,254.7 154.8,253.3 155.0,253.9 155.2,246.4 155.5,249.2 155.8,258.7 156.0,261.7 156.2,263.5 156.5,256.5 156.8,255.5 157.0,256.8 157.2,260.2 157.5,266.1 157.8,257.1 158.0,266.0 158.2,260.9 158.5,257.8 158.8,250.6 159.0,252.1 159.2,252.2 159.5,246.8 159.8,248.4 160.0,251.7 160.2,251.0 160.5,257.0 160.8,251.0 161.0,257.6 161.2,256.1 161.5,258.1 161.8,247.2 162.0,251.0 162.2,252.4 162.5,258.8 162.8,251.4 163.0,261.0 163.2,253.4 163.5,262.4 163.8,264.2 164.0,257.4 164.2,269.7 164.5,259.1 164.8,257.8 165.0,259.4 165.2,262.7 165.5,263.0 165.8,267.2 166.0,267.7 166.2,265.2 166.5,256.8 166.8,255.4 167.0,263.8 167.2,254.0 167.5,257.2 167.8,245.4 168.0,245.3 168.2,245.2 168.5,254.2 168.8,245.0 169.0,246.6 169.2,256.2 169.5,261.3 169.8,265.7 170.0,270.4 170.2,269.2 170.5,270.9 170.8,265.7 171.0,262.5 171.2,248.6 171.5,252.6 171.8,262.4 172.0,255.3 172.2,248.0 172.5,251.4 172.8,260.1 173.0,266.0 173.2,252.8 173.5,256.3 173.8,251.8 174.0,254.4 174.2,242.6 174.5,250.8 174.8,249.4 175.0,252.1 175.2,251.4 175.5,245.4 175.8,251.3 176.0,248.7 176.2,245.5 176.5,252.0 176.8,251.4 177.0,246.9 177.2,254.5 177.5,249.4 177.8,249.7 178.0,254.8 178.2,259.3 178.5,263.4 178.8,263.2 179.0,263.0 179.2,253.0 179.5,262.6 179.8,262.4 180.0,258.6 180.2,260.1 180.5,253.9 180.8,242.5 181.0,251.9 181.2,253.6 181.5,253.4 181.8,262.7 182.0,262.8 182.2,257.9 182.5,249.1 182.8,239.9 183.0,243.7 183.2,244.6 183.5,249.5 183.8,250.7 184.0,248.0 184.2,247.7 184.5,242.6 184.8,252.3 185.0,250.1 185.2,254.2 185.5,250.3 185.8,251.4 186.0,255.0 186.2,252.5 186.5,247.9 186.8,261.5 187.0,256.9 187.2,257.9 187.5,255.0 187.8,249.3 188.0,256.7 188.2,256.5 188.5,256.1 188.8,241.6 189.0,245.9 189.2,251.6 189.5,252.3 189.8,250.2 190.0,256.2 190.2,254.8 190.5,255.7 190.8,258.5 191.0,258.7 191.2,249.3 191.5,250.6 191.8,246.2 192.0,239.2 192.2,242.8 192.5,239.5 192.8,239.6 193.0,239.8 193.2,239.9 193.5,240.0 193.8,240.8 194.0,241.2 194.2,240.4 194.5,240.5 194.8,247.9 195.0,246.1 195.2,246.2 195.5,253.1 195.8,244.8 196.0,239.8 196.2,239.5 196.5,239.1 196.8,238.8 197.0,239.7 197.2,241.5 197.5,237.8 197.8,240.3 198.0,237.1 198.2,242.3 198.5,244.5 198.8,255.6 199.0,255.7 199.2,251.6 199.5,251.3 199.8,250.0 200.0,244.2 200.2,236.2 200.5,245.4 200.8,253.9 201.0,248.0 201.2,245.2 201.5,241.9 201.8,249.0 202.0,255.0 202.2,245.6 202.5,242.7 202.8,239.4 203.0,242.5 203.2,248.6 203.5,255.0 203.8,249.4 204.0,240.3 204.2,246.0 204.5,250.4 204.8,245.7 205.0,246.9 205.2,249.4 205.5,255.7 205.8,252.9 206.0,254.8 206.2,253.4 206.5,241.6 206.8,249.8 207.0,249.5 207.2,258.9 207.5,242.4 207.8,236.4 208.0,243.2 208.2,225.8 208.5,231.3 208.8,231.5 209.0,232.0 209.2,234.0 209.5,224.1 209.8,225.2 210.0,232.8 210.2,247.8 210.5,261.2 210.8,258.4 211.0,262.1 211.2,231.3 211.5,240.6 211.8,251.6 212.0,256.2 212.2,253.0 212.5,245.3 212.8,240.2 213.0,240.4 213.2,243.9 213.5,247.1 213.8,243.4 214.0,231.2 214.2,248.6 214.5,237.8 214.8,222.6 215.0,235.1 215.2,243.4 215.5,242.6 215.8,247.8 216.0,247.2 216.2,237.2 216.5,237.7 216.8,228.1 217.0,226.1 217.2,223.3 217.5,228.7 217.8,238.7 218.0,232.9 218.2,236.9 218.5,221.4 218.8,221.3 219.0,227.9 219.2,236.8 219.5,242.3 219.8,246.6 220.0,231.0 220.2,228.5 220.5,221.1 220.8,221.4 221.0,226.8 221.2,227.6 221.5,224.3 221.8,231.1 222.0,236.2 222.2,237.0 222.5,232.8 222.8,234.4 223.0,235.7 223.2,237.8 223.5,241.4 223.8,239.8 224.0,229.9 224.2,230.9 224.5,235.7 224.8,233.8 225.0,236.7 225.2,233.1 225.5,243.1 225.8,243.9 226.0,242.8 226.2,245.9 226.5,247.9 226.8,245.3 227.0,249.0 227.2,249.3 227.5,247.0 227.8,244.3 228.0,236.0 228.2,238.3 228.5,239.8 228.8,234.9 229.0,244.5 229.2,242.8 229.5,235.6 229.8,234.8 230.0,236.4 230.2,237.5 230.5,234.1 230.8,236.5 231.0,229.7 231.2,231.2 231.5,236.9 231.8,234.6 232.0,240.4 232.2,245.0 232.5,240.4 232.8,230.1 233.0,236.7 233.2,245.3 233.5,234.6 233.8,237.4 234.0,239.9 234.2,230.6 234.5,230.5 234.8,240.3 235.0,240.8 235.2,240.0 235.5,245.8 235.8,239.7 236.0,228.8 236.2,239.4 236.5,234.1 236.8,235.1 237.0,242.2 237.2,241.8 237.5,240.8 237.8,235.6 238.0,239.0 238.2,246.7 238.5,241.8 238.8,233.1 239.0,235.4 239.2,231.0 239.5,232.9 239.8,233.5 240.0,236.5 240.2,236.7 240.5,237.7 240.8,243.9 241.0,234.9 241.2,235.0 241.5,236.7 241.8,228.8 242.0,225.2 242.2,226.5 242.5,226.2 242.8,235.7 243.0,236.1 243.2,245.3 243.5,244.3 243.8,239.1 244.0,245.4 244.2,241.9 244.5,245.5 244.8,227.7 245.0,226.2 245.2,237.6 245.5,245.7 245.8,245.0 246.0,237.5 246.2,235.8 246.5,240.2 246.8,240.3 247.0,244.2 247.2,236.6 247.5,241.2 247.8,246.0 248.0,245.8 248.2,245.5 248.5,245.3 248.8,241.1 249.0,230.7 249.2,221.6 249.5,226.6 249.8,240.7 250.0,237.5 250.2,222.0 250.5,227.0 250.8,228.0 251.0,227.6 251.2,238.9 251.5,242.2 251.8,241.9 252.0,237.7 252.2,237.5 252.5,229.8 252.8,236.3 253.0,228.9 253.2,236.1 253.5,235.6 253.8,235.1 254.0,226.5 254.2,231.2 254.5,221.4 254.8,218.6 255.0,218.0 255.2,231.7 255.5,231.1 255.8,226.1 256.0,229.5 256.2,238.0 256.5,236.2 256.8,226.4 257.0,219.3 257.2,221.0 257.5,203.0 257.8,230.1 258.0,227.6 258.2,221.6 258.5,217.0 258.8,227.5 259.0,230.2 259.2,232.5 259.5,223.5 259.8,229.3 260.0,231.8 260.2,240.3 260.5,241.1 260.8,238.0 261.0,237.9 261.2,238.3 261.5,236.5 261.8,231.1 262.0,237.9 262.2,245.7 262.5,245.3 262.8,247.2 263.0,245.7 263.2,241.5 263.5,240.8 263.8,239.0 264.0,245.7 264.2,251.5 264.5,232.7 264.8,241.5 265.0,244.9 265.2,254.9 265.5,246.6 265.8,247.3 266.0,255.0 266.2,258.0 266.5,258.8 266.8,254.2 267.0,248.2 267.2,252.9 267.5,243.1 267.8,248.7 268.0,255.5 268.2,255.9 268.5,245.0 268.8,243.1 269.0,243.5 269.2,248.6 269.5,250.8 269.8,247.9 270.0,237.9 270.2,237.0 270.5,237.1 270.8,237.2 271.0,237.3 271.2,237.4 271.5,238.1 271.8,238.6 272.0,243.9 272.2,246.1 272.5,251.1 272.8,244.7 273.0,240.7 273.2,237.1 273.5,241.2 273.8,248.0 274.0,254.8 274.2,253.1 274.5,250.1 274.8,253.3 275.0,250.5 275.2,242.7 275.5,248.1 275.8,244.5 276.0,235.5 276.2,237.4 276.5,234.7 276.8,237.5 277.0,235.1 277.2,235.9 277.5,234.5 277.8,236.8 278.0,242.8 278.2,244.7 278.5,244.6 278.8,250.5 279.0,240.9 279.2,243.4 279.5,250.5 279.8,251.8 280.0,255.7 280.2,247.5 280.5,253.1 280.8,247.3 281.0,252.9 281.2,252.1 281.5,254.7 281.8,248.6 282.0,247.4 282.2,239.4 282.5,244.5 282.8,249.4 283.0,251.0 283.2,255.4 283.5,256.0 283.8,254.5 284.0,255.4 284.2,251.7 284.5,255.1 284.8,254.9 285.0,255.1 285.2,253.7 285.5,251.2 285.8,248.1 286.0,248.8 286.2,253.4 286.5,246.3 286.8,249.5 287.0,261.8 287.2,262.3 287.5,260.3 287.8,260.6 288.0,258.6 288.2,258.5 288.5,258.9 288.8,253.7 289.0,261.1 289.2,261.3 289.5,266.1 289.8,264.6 290.0,267.3 290.2,265.9 290.5,268.2 290.8,268.6 291.0,269.1 291.2,269.5 291.5,261.1 291.8,259.6 292.0,263.7 292.2,264.2 292.5,260.5 292.8,256.9 293.0,251.4 293.2,252.6 293.5,260.1 293.8,265.3 294.0,268.5 294.2,265.5 294.5,265.9 294.8,264.8 295.0,267.0 295.2,267.5 295.5,270.0 295.8,266.8 296.0,265.0 296.2,273.2 296.5,273.7 296.8,258.2 297.0,261.6 297.2,263.6 297.5,267.9 297.8,251.6 298.0,246.9 298.2,246.8 298.5,251.6 298.8,247.0 299.0,257.9 299.2,264.2 299.5,265.9 299.8,268.0 300.0,257.3 300.2,256.6 300.5,246.1 300.8,254.1 301.0,262.5 301.2,263.4 301.5,255.5 301.8,256.7 302.0,263.3 302.2,254.0 302.5,257.1 302.8,262.2 303.0,256.3 303.2,253.8 303.5,263.1 303.8,266.6 304.0,272.2 304.2,270.2 304.5,260.4 304.8,260.0 305.0,256.0 305.2,255.9 305.5,260.6 305.8,270.3 306.0,268.0 306.2,273.5 306.5,263.4 306.8,261.4 307.0,261.6 307.2,247.7 307.5,247.8 307.8,247.9 308.0,253.0 308.2,259.8 308.5,262.1 308.8,260.9 309.0,252.0 309.2,257.2 309.5,273.8 309.8,275.6 310.0,281.4 310.2,267.5 310.5,269.5 310.8,276.6 311.0,267.0 311.2,268.1 311.5,268.7 311.8,263.0 312.0,260.5 312.2,256.7 312.5,256.8 312.8,257.8 313.0,251.2 313.2,252.2 313.5,260.9 313.8,259.0 314.0,248.6 314.2,257.8 314.5,255.6 314.8,256.0 315.0,257.9 315.2,254.7 315.5,249.7 315.8,247.8 316.0,250.9 316.2,251.6 316.5,250.8 316.8,260.6 317.0,258.7 317.2,260.3 317.5,259.9 317.8,259.6 318.0,256.2 318.2,253.4 318.5,253.0 318.8,258.2 319.0,257.9 319.2,255.7 319.5,251.5 319.8,253.6 320.0,256.5 320.2,253.3 320.5,256.5 320.8,256.7 321.0,254.7 321.2,252.3 321.5,249.1 321.8,247.9 322.0,254.0 322.2,247.2 322.5,246.8 322.8,248.2 323.0,244.3 323.2,244.6 323.5,241.5 323.8,247.3 324.0,251.9 324.2,245.4 324.5,254.5 324.8,248.8 325.0,241.4 325.2,241.3 325.5,243.7 325.8,241.3 326.0,241.3 326.2,245.6 326.5,253.2 326.8,251.2 327.0,258.2 327.2,254.1 327.5,258.9 327.8,251.2 328.0,253.4 328.2,251.3 328.5,252.7 328.8,262.8 329.0,259.9 329.2,257.4 329.5,256.1 329.8,256.3 330.0,243.9 330.2,250.3 330.5,244.4 330.8,242.3 331.0,243.2 331.2,242.5 331.5,245.5 331.8,252.3 332.0,251.9 332.2,247.5 332.5,249.1 332.8,257.7 333.0,255.4 333.2,258.1 333.5,257.8 333.8,253.6 334.0,255.5 334.2,249.1 334.5,251.4 334.8,252.7 335.0,251.2 335.2,246.0 335.5,246.3 335.8,246.7 336.0,249.5 336.2,249.7 336.5,251.8 336.8,250.4 337.0,245.0 337.2,246.9 337.5,253.4 337.8,249.5 338.0,246.3 338.2,243.8 338.5,251.5 338.8,247.4 339.0,253.1 339.2,253.3 339.5,252.3 339.8,252.5 340.0,260.2 340.2,260.4 340.5,260.7 340.8,257.4 341.0,261.1 341.2,261.3 341.5,259.5 341.8,259.6 342.0,253.8 342.2,257.1 342.5,254.5 342.8,252.9 343.0,247.4 343.2,249.9 343.5,253.0 343.8,245.9 344.0,249.9 344.2,253.1 344.5,259.3 344.8,262.3 345.0,256.4 345.2,261.0 345.5,260.6 345.8,256.9 346.0,251.9 346.2,256.5 346.5,259.1 346.8,254.7 347.0,255.6 347.2,252.7 347.5,249.2 347.8,246.2 348.0,251.4 348.2,253.3 348.5,254.8 348.8,255.2 349.0,254.6 349.2,258.1 349.5,248.8 349.8,253.8 350.0,248.2 350.2,248.9 350.5,250.8 350.8,251.7 351.0,254.2 351.2,249.8 351.5,258.6 351.8,261.7 352.0,261.2 352.2,261.8 352.5,257.2 352.8,248.1 353.0,244.6 353.2,249.1 353.5,244.8 353.8,251.3 354.0,254.3 354.2,250.0 354.5,249.1 354.8,245.3 355.0,247.0 355.2,251.4 355.5,258.1 355.8,251.2 356.0,257.3 356.2,257.6 356.5,256.3 356.8,256.1 357.0,257.5 357.2,264.3 357.5,264.4 357.8,264.5 358.0,259.9 358.2,257.0 358.5,260.5 358.8,260.1 359.0,253.9 359.2,263.4 359.5,264.4 359.8,264.4 360.0,261.6 360.2,258.6 360.5,250.4 360.8,243.8 361.0,248.5 361.2,248.0 361.5,255.0 361.8,264.2 362.0,264.2 362.2,262.3 362.5,259.5 362.8,259.4 363.0,263.7 363.2,262.1 363.5,263.4 363.8,252.4 364.0,245.6 364.2,246.1 364.5,253.8 364.8,246.6 365.0,256.5 365.2,248.2 365.5,250.2 365.8,249.9 366.0,260.5 366.2,250.4 366.5,244.4 366.8,244.4 367.0,250.8 367.2,254.6 367.5,244.6 367.8,240.9 368.0,235.4 368.2,250.7 368.5,252.3 368.8,254.7 369.0,238.7 369.2,243.1 369.5,243.0 369.8,250.2 370.0,239.1 370.2,250.2 370.5,252.9 370.8,254.3 371.0,244.3 371.2,256.1 371.5,254.5 371.8,253.4 372.0,250.9 372.2,247.5 372.5,248.0 372.8,248.5 373.0,254.3 373.2,254.9 373.5,247.9 373.8,248.7 374.0,254.0 374.2,247.7 374.5,247.0 374.8,254.0 375.0,254.4 375.2,248.8 375.5,252.1 375.8,256.5 376.0,256.9 376.2,255.5 376.5,257.2 376.8,250.1 377.0,251.5 377.2,254.4 377.5,246.2 377.8,241.8 378.0,239.2 378.2,243.1 378.5,244.2 378.8,249.4 379.0,257.8 379.2,250.8 379.5,251.2 379.8,253.8 380.0,238.8 380.2,241.4 380.5,234.4 380.8,234.7 381.0,235.1 381.2,246.8 381.5,243.9 381.8,241.8 382.0,250.8 382.2,250.2 382.5,240.8 382.8,253.3 383.0,260.8 383.2,255.8 383.5,242.5 383.8,241.2 384.0,238.8 384.2,256.8 384.5,250.6 384.8,258.5 385.0,267.6 385.2,266.2 385.5,265.6 385.8,273.2 386.0,273.7 386.2,255.6 386.5,264.2 386.8,244.1 387.0,243.2 387.2,253.9 387.5,241.9 387.8,253.8 388.0,270.5 388.2,263.5 388.5,247.6 388.8,261.8 389.0,252.7 389.2,244.8 389.5,242.7 389.8,242.8 390.0,242.9 390.2,258.3 390.5,250.7 390.8,243.2 391.0,243.3 391.2,243.4 391.5,254.1 391.8,245.6 392.0,247.0 392.2,253.1 392.5,251.2 392.8,250.3 393.0,249.0 393.2,252.0 393.5,248.4 393.8,256.8 394.0,246.5 394.2,253.2 394.5,258.3 394.8,256.5 395.0,253.5 395.2,259.5 395.5,252.2 395.8,251.1 396.0,247.1 396.2,250.4 396.5,246.4 396.8,245.1 397.0,251.4 397.2,251.7 397.5,253.4 397.8,262.1 398.0,247.9 398.2,246.5 398.5,248.8 398.8,258.3 399.0,250.3 399.2,250.6 399.5,254.6 399.8,247.8 400.0,247.0 400.2,249.2 400.5,247.4 400.8,252.9 401.0,258.4 401.2,254.2 401.5,258.0 401.8,259.3 402.0,257.3 402.2,251.4 402.5,262.4 402.8,252.4 403.0,254.5 403.2,259.4 403.5,241.8 403.8,241.7 404.0,241.6 404.2,241.6 404.5,247.7 404.8,245.1 405.0,248.0 405.2,253.7 405.5,248.7 405.8,248.1 406.0,243.3 406.2,249.1 406.5,248.3 406.8,257.5 407.0,262.1 407.2,250.8 407.5,251.8 407.8,252.6 408.0,252.7 408.2,253.8 408.5,251.4 408.8,255.9 409.0,257.2 409.2,256.7 409.5,251.3 409.8,256.4 410.0,247.0 410.2,252.7 410.5,254.4 410.8,248.4 411.0,250.6 411.2,258.3 411.5,256.7 411.8,250.9 412.0,250.8 412.2,252.6 412.5,257.3 412.8,254.4 413.0,256.6 413.2,254.5 413.5,257.0 413.8,256.2 414.0,248.7 414.2,251.7 414.5,255.4 414.8,251.8 415.0,240.8 415.2,238.9 415.5,242.0 415.8,247.0 416.0,244.7 416.2,250.1 416.5,246.6 416.8,240.5 417.0,244.7 417.2,242.3 417.5,249.8 417.8,253.6 418.0,249.3 418.2,245.4 418.5,246.7 418.8,251.7 419.0,250.4 419.2,248.3 419.5,252.4 419.8,253.1 420.0,247.5 420.2,243.9 420.5,236.8 420.8,237.3 421.0,238.4 421.2,243.0 421.5,240.6 421.8,240.2 422.0,240.0 422.2,239.2 422.5,239.6 422.8,238.5 423.0,246.0 423.2,244.6 423.5,246.2 423.8,247.1 424.0,240.8 424.2,234.5 424.5,234.4 424.8,234.2 425.0,236.4 425.2,233.9 425.5,238.6 425.8,238.2 426.0,243.7 426.2,238.4 426.5,233.0 426.8,233.6 427.0,238.7 427.2,251.2 427.5,248.2 427.8,247.4 428.0,252.6 428.2,235.1 428.5,231.6 428.8,231.5 429.0,231.3 429.2,232.7 429.5,238.0 429.8,230.8 430.0,230.6 430.2,232.5 430.5,233.7 430.8,233.9 431.0,241.4 431.2,236.5 431.5,234.7 431.8,233.3 432.0,238.8 432.2,233.0 432.5,230.1 432.8,230.1 433.0,230.1 433.2,230.1 433.5,230.1 433.8,230.0 434.0,230.0 434.2,230.0 434.5,241.2 434.8,239.6 435.0,247.6 435.2,245.7 435.5,251.5 435.8,239.5 436.0,230.7 436.2,232.1 436.5,232.4 436.8,234.9 437.0,239.2 437.2,231.9 437.5,235.8 437.8,233.6 438.0,247.5 438.2,243.5 438.5,239.4 438.8,249.7 439.0,237.1 439.2,247.5 439.5,246.8 439.8,242.1 440.0,239.3 440.2,239.8 440.5,241.7 440.8,237.5 441.0,240.5 441.2,244.2 441.5,243.0 441.8,249.7 442.0,242.0 442.2,242.2 442.5,246.3 442.8,246.5 443.0,251.4 443.2,251.6 443.5,243.6 443.8,249.4 444.0,244.3 444.2,248.6 444.5,246.7 444.8,250.2 445.0,237.3 445.2,242.5 445.5,242.1 445.8,249.1 446.0,252.4 446.2,252.5 446.5,251.3 446.8,249.0 447.0,243.9 447.2,243.9 447.5,244.7 447.8,246.9 448.0,251.9 448.2,246.0 448.5,246.5 448.8,248.7 449.0,247.0 449.2,240.0 449.5,240.3 449.8,239.9 450.0,238.4 450.2,241.4 450.5,241.5 450.8,242.2 451.0,244.1 451.2,244.6 451.5,247.2 451.8,248.9 452.0,248.9 452.2,249.6 452.5,251.3 452.8,248.4 453.0,251.7 453.2,254.6 453.5,251.7 453.8,254.8 454.0,254.4 454.2,253.8 454.5,255.0 454.8,249.8 455.0,252.1 455.2,248.2 455.5,248.8 455.8,241.0 456.0,246.2 456.2,251.1 456.5,246.3 456.8,252.6 457.0,248.9 457.2,248.0 457.5,243.9 457.8,246.9 458.0,245.7 458.2,245.7 458.5,246.6 458.8,242.9 459.0,246.4 459.2,245.7 459.5,251.2 459.8,249.6 460.0,250.6 460.2,251.0 460.5,254.2 460.8,257.0 461.0,253.9 461.2,248.1 461.5,247.8 461.8,246.4 462.0,249.3 462.2,247.8 462.5,249.2 462.8,249.7 463.0,250.4 463.2,245.9 463.5,251.4 463.8,248.5 464.0,243.6 464.2,243.7 464.5,243.8 464.8,243.9 465.0,246.9 465.2,245.4 465.5,248.0 465.8,253.0 466.0,248.1 466.2,246.0 466.5,254.8 466.8,256.0 467.0,259.1 467.2,256.0 467.5,254.8 467.8,253.5 468.0,249.2 468.2,256.4 468.5,249.3 468.8,247.3 469.0,245.2 469.2,256.9 469.5,251.0 469.8,258.3 470.0,249.4 470.2,262.2 470.5,267.2 470.8,266.3 471.0,267.4 471.2,257.8 471.5,254.1 471.8,261.5 472.0,259.6 472.2,255.1 472.5,255.4 472.8,251.9 473.0,248.9 473.2,256.3 473.5,245.1 473.8,245.1 474.0,248.3 474.2,255.9 474.5,256.5 474.8,253.4 475.0,245.0 475.2,262.8 475.5,255.5 475.8,259.4 476.0,250.3 476.2,257.5 476.5,248.2 476.8,247.0 477.0,250.2 477.2,244.8 477.5,252.7 477.8,253.6 478.0,260.7 478.2,263.7 478.5,258.1 478.8,249.9 479.0,249.4 479.2,257.4 479.5,246.9 479.8,255.6 480.0,246.0 480.2,252.0 480.5,255.4 480.8,249.7 481.0,243.4 481.2,246.4 481.5,251.7 481.8,245.0 482.0,250.2 482.2,252.5 482.5,245.5 482.8,242.8 483.0,242.7 483.2,244.1 483.5,242.5 483.8,242.4 484.0,255.0 484.2,257.4 484.5,258.4 484.8,251.9 485.0,252.0 485.2,258.3 485.5,251.0 485.8,248.1 486.0,247.4 486.2,246.2 486.5,251.6 486.8,247.5 487.0,250.2 487.2,252.7 487.5,254.3 487.8,255.1 488.0,246.1 488.2,242.0 488.5,242.0 488.8,242.0 489.0,249.1 489.2,253.5 489.5,262.8 489.8,258.1 490.0,263.2 490.2,261.1 490.5,263.9 490.8,256.0 491.0,254.8 491.2,249.4 491.5,244.0 491.8,241.9 492.0,247.2 492.2,251.8 492.5,266.3 492.8,264.5 493.0,262.7 493.2,253.1 493.5,259.4 493.8,253.2 494.0,263.7 494.2,263.3 494.5,255.2 494.8,250.1 495.0,243.5 495.2,242.0 495.5,240.9 495.8,244.8 496.0,253.2 496.2,252.7 496.5,258.3 496.8,257.5 497.0,258.6 497.2,258.2 497.5,254.1 497.8,257.3 498.0,251.8 498.2,246.6 498.5,250.5 498.8,246.0 499.0,242.4 499.2,247.2 499.5,246.0 499.8,244.1 500.0,241.9 500.2,239.7 500.5,242.5 500.8,242.8 501.0,241.0 501.2,250.6 501.5,251.0 501.8,243.5 502.0,244.8 502.2,241.4 502.5,239.8 502.8,248.9 503.0,251.4 503.2,250.3 503.5,251.4"/>
</g>
<g stroke="#000" stroke-width="1.1" fill="none">
<rect x="45.0" y="4.5" width="458.5" height="321.0"/>
<line x1="90.85" y1="325.50" x2="90.85" y2="321.00"/>
<line x1="90.85" y1="4.50" x2="90.85" y2="9.00"/>
<line x1="136.70" y1="325.50" x2="136.70" y2="316.50"/>
<line x1="136.70" y1="4.50" x2="136.70" y2="13.50"/>
<line x1="182.55" y1="325.50" x2="182.55" y2="321.00"/>
<line x1="182.55" y1="4.50" x2="182.55" y2="9.00"/>
<line x1="228.40" y1="325.50" x2="228.40" y2="316.50"/>
<line x1="228.40" y1="4.50" x2="228.40" y2="13.50"/>
<line x1="274.25" y1="325.50" x2="274.25" y2="321.00"/>
<line x1="274.25" y1="4.50" x2="274.25" y2="9.00"/>
<line x1="320.10" y1="325.50" x2="320.10" y2="316.50"/>
<line x1="320.10" y1="4.50" x2="320.10" y2="13.50"/>
<line x1="365.95" y1="325.50" x2="365.95" y2="321.00"/>
<line x1="365.95" y1="4.50" x2="365.95" y2="9.00"/>
<line x1="411.80" y1="325.50" x2="411.80" y2="316.50"/>
<line x1="411.80" y1="4.50" x2="411.80" y2="13.50"/>
<line x1="457.65" y1="325.50" x2="457.65" y2="321.00"/>
<line x1="457.65" y1="4.50" x2="457.65" y2="9.00"/>
<line x1="45.00" y1="298.75" x2="49.50" y2="298.75"/>
<line x1="503.50" y1="298.75" x2="499.00" y2="298.75"/>
<line x1="45.00" y1="272.00" x2="54.00" y2="272.00"/>
<line x1="503.50" y1="272.00" x2="494.50" y2="272.00"/>
<line x1="45.00" y1="245.25" x2="49.50" y2="245.25"/>
<line x1="503.50" y1="245.25" x2="499.00" y2="245.25"/>
<line x1="45.00" y1="218.50" x2="54.00" y2="218.50"/>
<line x1="503.50" y1="218.50" x2="494.50" y2="218.50"/>
<line x1="45.00" y1="191.75" x2="49.50" y2="191.75"/>
<line x1="503.50" y1="191.75" x2="499.00" y2="191.75"/>
<line x1="45.00" y1="165.00" x2="54.00" y2="165.00"/>
<line x1="503.50" y1="165.00" x2="494.50" y2="165.00"/>
<line x1="45.00" y1="138.25" x2="49.50" y2="138.25"/>
<line x1="503.50" y1="138.25" x2="499.00" y2="138.25"/>
<line x1="45.00" y1="111.50" x2="54.00" y2="111.50"/>
<line x1="503.50" y1="111.50" x2="494.50" y2="111.50"/>
<line x1="45.00" y1="84.75" x2="49.50" y2="84.75"/>
<line x1="503.50" y1="84.75" x2="499.00" y2="84.75"/>
<line x1="45.00" y1="58.00" x2="54.00" y2="58.00"/>
<line x1="503.50" y1="58.00" x2="494.50" y2="58.00"/>
<line x1="45.00" y1="31.25" x2="49.50" y2="31.25"/>
<line x1="503.50" y1="31.25" x2="499.00" y2="31.25"/>
</g>
<g><text x="45.00" y="338.8" text-anchor="middle">0</text>
<text x="136.70" y="338.8" text-anchor="middle">10000</text>
<text x="228.40" y="338.8" text-anchor="middle">20000</text>
<text x="320.10" y="338.8" text-anchor="middle">30000</text>
<text x="411.80" y="338.8" text-anchor="middle">40000</text>
<text x="503.50" y="338.8" text-anchor="middle">50000</text></g>
<g><text x="41.3" y="329.40" text-anchor="end">20</text>
<text x="41.3" y="275.90" text-anchor="end">20.5</text>
<text x="41.3" y="222.40" text-anchor="end">21</text>
<text x="41.3" y="168.90" text-anchor="end">21.5</text>
<text x="41.3" y="115.40" text-anchor="end">22</text>
<text x="41.3" y="61.90" text-anchor="end">22.5</text>
<text x="41.3" y="8.40" text-anchor="end">23</text></g>
<text x="274.3" y="351.6" text-anchor="middle" style="font-size:13px">Time (ps)</text>
<text transform="translate(11,164) rotate(-90)" text-anchor="middle" style="font-size:13px">Radius of gyration (Å)</text>
<g id="legend">
<rect x="365.8" y="27.5" width="118.8" height="72" fill="#fff" stroke="#000" stroke-width="1"/>
<line x1="370.5" y1="36.5" x2="389.3" y2="36.5" stroke="#000000" stroke-width="1.2"/>
<text x="398.8" y="40.6" style="font-size:12.65px">ZINC633887</text>
<line x1="370.5" y1="50.0" x2="389.3" y2="50.0" stroke="#ff0000" stroke-width="1.2"/>
<text x="398.8" y="54.1" style="font-size:12.65px">ZINC08983432</text>
<line x1="370.5" y1="63.5" x2="389.3" y2="63.5" stroke="#00ff00" stroke-width="1.2"/>
<text x="398.8" y="67.6" style="font-size:12.65px">PubChem73393</text>
<line x1="370.5" y1="77.0" x2="389.3" y2="77.0" stroke="#0000ff" stroke-width="1.2"/>
<text x="398.8" y="81.1" style="font-size:12.65px">NAD<tspan dy="1.3">+</tspan></text>
<line x1="370.5" y1="90.5" x2="389.3" y2="90.5" stroke="#ffff00" stroke-width="1.2"/>
<text x="398.8" y="94.6" style="font-size:12.65px">Zn2<tspan dy="1.3">+</tspan></text>
</g>
</svg>
</body></html>
